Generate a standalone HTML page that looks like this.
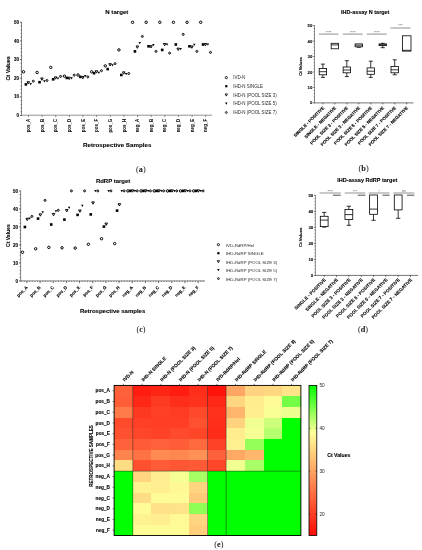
<!DOCTYPE html>
<html lang="en"><head><meta charset="utf-8"><title>Figure</title>
<style>html,body{margin:0;padding:0;background:#fff}svg{display:block}</style></head>
<body>
<svg width="422" height="550" viewBox="0 0 422 550" font-family='"Liberation Sans", Arial, sans-serif'>
<rect width="422" height="550" fill="#fff"/>
<g id="panelA">
<text x="116.80" y="14.00" font-size="6.1" font-weight="bold" text-anchor="middle" fill="#000" stroke="#000" stroke-width="0.1" textLength="23.10" lengthAdjust="spacingAndGlyphs">N target</text>
<line x1="21.50" y1="22.00" x2="21.50" y2="115.80" stroke="#333" stroke-width="0.6"/>
<line x1="19.90" y1="115.50" x2="21.50" y2="115.50" stroke="#000" stroke-width="0.6"/>
<text x="18.90" y="117.12" font-size="4.5" font-weight="bold" text-anchor="end" fill="#000" stroke="#000" stroke-width="0.1">0</text>
<line x1="19.90" y1="96.86" x2="21.50" y2="96.86" stroke="#000" stroke-width="0.6"/>
<text x="18.90" y="98.48" font-size="4.5" font-weight="bold" text-anchor="end" fill="#000" stroke="#000" stroke-width="0.1">10</text>
<line x1="19.90" y1="78.22" x2="21.50" y2="78.22" stroke="#000" stroke-width="0.6"/>
<text x="18.90" y="79.84" font-size="4.5" font-weight="bold" text-anchor="end" fill="#000" stroke="#000" stroke-width="0.1">20</text>
<line x1="19.90" y1="59.58" x2="21.50" y2="59.58" stroke="#000" stroke-width="0.6"/>
<text x="18.90" y="61.20" font-size="4.5" font-weight="bold" text-anchor="end" fill="#000" stroke="#000" stroke-width="0.1">30</text>
<line x1="19.90" y1="40.94" x2="21.50" y2="40.94" stroke="#000" stroke-width="0.6"/>
<text x="18.90" y="42.56" font-size="4.5" font-weight="bold" text-anchor="end" fill="#000" stroke="#000" stroke-width="0.1">40</text>
<line x1="19.90" y1="22.30" x2="21.50" y2="22.30" stroke="#000" stroke-width="0.6"/>
<text x="18.90" y="23.92" font-size="4.5" font-weight="bold" text-anchor="end" fill="#000" stroke="#000" stroke-width="0.1">50</text>
<line x1="20.54" y1="111.77" x2="21.50" y2="111.77" stroke="#000" stroke-width="0.48"/>
<line x1="20.54" y1="108.04" x2="21.50" y2="108.04" stroke="#000" stroke-width="0.48"/>
<line x1="20.54" y1="104.32" x2="21.50" y2="104.32" stroke="#000" stroke-width="0.48"/>
<line x1="20.54" y1="100.59" x2="21.50" y2="100.59" stroke="#000" stroke-width="0.48"/>
<line x1="20.54" y1="93.13" x2="21.50" y2="93.13" stroke="#000" stroke-width="0.48"/>
<line x1="20.54" y1="89.40" x2="21.50" y2="89.40" stroke="#000" stroke-width="0.48"/>
<line x1="20.54" y1="85.68" x2="21.50" y2="85.68" stroke="#000" stroke-width="0.48"/>
<line x1="20.54" y1="81.95" x2="21.50" y2="81.95" stroke="#000" stroke-width="0.48"/>
<line x1="20.54" y1="74.49" x2="21.50" y2="74.49" stroke="#000" stroke-width="0.48"/>
<line x1="20.54" y1="70.76" x2="21.50" y2="70.76" stroke="#000" stroke-width="0.48"/>
<line x1="20.54" y1="67.04" x2="21.50" y2="67.04" stroke="#000" stroke-width="0.48"/>
<line x1="20.54" y1="63.31" x2="21.50" y2="63.31" stroke="#000" stroke-width="0.48"/>
<line x1="20.54" y1="55.85" x2="21.50" y2="55.85" stroke="#000" stroke-width="0.48"/>
<line x1="20.54" y1="52.12" x2="21.50" y2="52.12" stroke="#000" stroke-width="0.48"/>
<line x1="20.54" y1="48.40" x2="21.50" y2="48.40" stroke="#000" stroke-width="0.48"/>
<line x1="20.54" y1="44.67" x2="21.50" y2="44.67" stroke="#000" stroke-width="0.48"/>
<line x1="20.54" y1="37.21" x2="21.50" y2="37.21" stroke="#000" stroke-width="0.48"/>
<line x1="20.54" y1="33.48" x2="21.50" y2="33.48" stroke="#000" stroke-width="0.48"/>
<line x1="20.54" y1="29.76" x2="21.50" y2="29.76" stroke="#000" stroke-width="0.48"/>
<line x1="20.54" y1="26.03" x2="21.50" y2="26.03" stroke="#000" stroke-width="0.48"/>
<line x1="21.20" y1="115.20" x2="212.20" y2="115.20" stroke="#666" stroke-width="0.7"/>
<line x1="28.50" y1="115.20" x2="28.50" y2="117.10" stroke="#444" stroke-width="0.6"/>
<text x="0" y="0" transform="translate(30.10,118.80) rotate(-90)" font-size="4.45" font-weight="bold" text-anchor="end" fill="#000">pos_A</text>
<line x1="42.13" y1="115.20" x2="42.13" y2="117.10" stroke="#444" stroke-width="0.6"/>
<text x="0" y="0" transform="translate(43.73,118.80) rotate(-90)" font-size="4.45" font-weight="bold" text-anchor="end" fill="#000">pos_B</text>
<line x1="55.76" y1="115.20" x2="55.76" y2="117.10" stroke="#444" stroke-width="0.6"/>
<text x="0" y="0" transform="translate(57.36,118.80) rotate(-90)" font-size="4.45" font-weight="bold" text-anchor="end" fill="#000">pos_C</text>
<line x1="69.39" y1="115.20" x2="69.39" y2="117.10" stroke="#444" stroke-width="0.6"/>
<text x="0" y="0" transform="translate(70.99,118.80) rotate(-90)" font-size="4.45" font-weight="bold" text-anchor="end" fill="#000">pos_D</text>
<line x1="83.02" y1="115.20" x2="83.02" y2="117.10" stroke="#444" stroke-width="0.6"/>
<text x="0" y="0" transform="translate(84.62,118.80) rotate(-90)" font-size="4.45" font-weight="bold" text-anchor="end" fill="#000">pos_E</text>
<line x1="96.65" y1="115.20" x2="96.65" y2="117.10" stroke="#444" stroke-width="0.6"/>
<text x="0" y="0" transform="translate(98.25,118.80) rotate(-90)" font-size="4.45" font-weight="bold" text-anchor="end" fill="#000">pos_F</text>
<line x1="110.28" y1="115.20" x2="110.28" y2="117.10" stroke="#444" stroke-width="0.6"/>
<text x="0" y="0" transform="translate(111.88,118.80) rotate(-90)" font-size="4.45" font-weight="bold" text-anchor="end" fill="#000">pos_G</text>
<line x1="123.91" y1="115.20" x2="123.91" y2="117.10" stroke="#444" stroke-width="0.6"/>
<text x="0" y="0" transform="translate(125.51,118.80) rotate(-90)" font-size="4.45" font-weight="bold" text-anchor="end" fill="#000">pos_H</text>
<line x1="137.54" y1="115.20" x2="137.54" y2="117.10" stroke="#444" stroke-width="0.6"/>
<text x="0" y="0" transform="translate(139.14,118.80) rotate(-90)" font-size="4.45" font-weight="bold" text-anchor="end" fill="#000">neg_A</text>
<line x1="151.17" y1="115.20" x2="151.17" y2="117.10" stroke="#444" stroke-width="0.6"/>
<text x="0" y="0" transform="translate(152.77,118.80) rotate(-90)" font-size="4.45" font-weight="bold" text-anchor="end" fill="#000">neg_B</text>
<line x1="164.80" y1="115.20" x2="164.80" y2="117.10" stroke="#444" stroke-width="0.6"/>
<text x="0" y="0" transform="translate(166.40,118.80) rotate(-90)" font-size="4.45" font-weight="bold" text-anchor="end" fill="#000">neg_C</text>
<line x1="178.43" y1="115.20" x2="178.43" y2="117.10" stroke="#444" stroke-width="0.6"/>
<text x="0" y="0" transform="translate(180.03,118.80) rotate(-90)" font-size="4.45" font-weight="bold" text-anchor="end" fill="#000">neg_D</text>
<line x1="192.06" y1="115.20" x2="192.06" y2="117.10" stroke="#444" stroke-width="0.6"/>
<text x="0" y="0" transform="translate(193.66,118.80) rotate(-90)" font-size="4.45" font-weight="bold" text-anchor="end" fill="#000">neg_E</text>
<line x1="205.69" y1="115.20" x2="205.69" y2="117.10" stroke="#444" stroke-width="0.6"/>
<text x="0" y="0" transform="translate(207.29,118.80) rotate(-90)" font-size="4.45" font-weight="bold" text-anchor="end" fill="#000">neg_F</text>
<circle cx="23.50" cy="71.80" r="1.22" fill="#fff" stroke="#000" stroke-width="1.0"/>
<rect x="24.60" y="83.10" width="2.6" height="2.6" fill="#000"/>
<path d="M27.00,81.66 L29.60,81.66 L28.30,84.00 Z" fill="#fff" stroke="#000" stroke-width="0.95"/>
<path d="M29.45,83.10 L31.95,83.10 L30.70,85.35 Z" fill="#000"/>
<circle cx="33.30" cy="81.20" r="1.0" fill="#fff" stroke="#000" stroke-width="0.95"/>
<circle cx="33.30" cy="81.20" r="0.3" fill="#000"/>
<circle cx="37.13" cy="72.50" r="1.22" fill="#fff" stroke="#000" stroke-width="1.0"/>
<rect x="38.23" y="80.90" width="2.6" height="2.6" fill="#000"/>
<path d="M40.63,77.96 L43.23,77.96 L41.93,80.30 Z" fill="#fff" stroke="#000" stroke-width="0.95"/>
<path d="M43.08,80.20 L45.58,80.20 L44.33,82.45 Z" fill="#000"/>
<circle cx="46.93" cy="80.50" r="1.0" fill="#fff" stroke="#000" stroke-width="0.95"/>
<circle cx="46.93" cy="80.50" r="0.3" fill="#000"/>
<circle cx="50.76" cy="67.40" r="1.22" fill="#fff" stroke="#000" stroke-width="1.0"/>
<rect x="51.86" y="78.00" width="2.6" height="2.6" fill="#000"/>
<path d="M54.26,76.86 L56.86,76.86 L55.56,79.20 Z" fill="#fff" stroke="#000" stroke-width="0.95"/>
<path d="M56.71,77.60 L59.21,77.60 L57.96,79.85 Z" fill="#000"/>
<circle cx="60.56" cy="76.40" r="1.0" fill="#fff" stroke="#000" stroke-width="0.95"/>
<circle cx="60.56" cy="76.40" r="0.3" fill="#000"/>
<circle cx="64.39" cy="76.10" r="1.22" fill="#fff" stroke="#000" stroke-width="1.0"/>
<rect x="65.49" y="76.60" width="2.6" height="2.6" fill="#000"/>
<path d="M67.89,77.26 L70.49,77.26 L69.19,79.60 Z" fill="#fff" stroke="#000" stroke-width="0.95"/>
<path d="M70.34,77.30 L72.84,77.30 L71.59,79.55 Z" fill="#000"/>
<circle cx="74.19" cy="75.10" r="1.0" fill="#fff" stroke="#000" stroke-width="0.95"/>
<circle cx="74.19" cy="75.10" r="0.3" fill="#000"/>
<circle cx="78.02" cy="75.00" r="1.22" fill="#fff" stroke="#000" stroke-width="1.0"/>
<rect x="79.12" y="75.60" width="2.6" height="2.6" fill="#000"/>
<path d="M81.52,76.56 L84.12,76.56 L82.82,78.90 Z" fill="#fff" stroke="#000" stroke-width="0.95"/>
<path d="M83.97,75.10 L86.47,75.10 L85.22,77.35 Z" fill="#000"/>
<circle cx="87.82" cy="76.90" r="1.0" fill="#fff" stroke="#000" stroke-width="0.95"/>
<circle cx="87.82" cy="76.90" r="0.3" fill="#000"/>
<circle cx="91.65" cy="71.80" r="1.22" fill="#fff" stroke="#000" stroke-width="1.0"/>
<rect x="92.75" y="71.90" width="2.6" height="2.6" fill="#000"/>
<path d="M95.15,70.76 L97.75,70.76 L96.45,73.10 Z" fill="#fff" stroke="#000" stroke-width="0.95"/>
<path d="M97.60,71.80 L100.10,71.80 L98.85,74.05 Z" fill="#000"/>
<circle cx="101.45" cy="70.70" r="1.0" fill="#fff" stroke="#000" stroke-width="0.95"/>
<circle cx="101.45" cy="70.70" r="0.3" fill="#000"/>
<circle cx="105.28" cy="65.90" r="1.22" fill="#fff" stroke="#000" stroke-width="1.0"/>
<rect x="106.38" y="67.80" width="2.6" height="2.6" fill="#000"/>
<path d="M108.78,63.66 L111.38,63.66 L110.08,66.00 Z" fill="#fff" stroke="#000" stroke-width="0.95"/>
<path d="M111.23,64.30 L113.73,64.30 L112.48,66.55 Z" fill="#000"/>
<circle cx="115.08" cy="63.60" r="1.0" fill="#fff" stroke="#000" stroke-width="0.95"/>
<circle cx="115.08" cy="63.60" r="0.3" fill="#000"/>
<circle cx="118.91" cy="49.90" r="1.22" fill="#fff" stroke="#000" stroke-width="1.0"/>
<rect x="120.01" y="73.70" width="2.6" height="2.6" fill="#000"/>
<path d="M122.41,71.86 L125.01,71.86 L123.71,74.20 Z" fill="#fff" stroke="#000" stroke-width="0.95"/>
<path d="M124.86,73.00 L127.36,73.00 L126.11,75.25 Z" fill="#000"/>
<circle cx="128.71" cy="73.50" r="1.0" fill="#fff" stroke="#000" stroke-width="0.95"/>
<circle cx="128.71" cy="73.50" r="0.3" fill="#000"/>
<circle cx="132.54" cy="22.30" r="1.22" fill="#fff" stroke="#000" stroke-width="1.0"/>
<rect x="133.64" y="50.10" width="2.6" height="2.6" fill="#000"/>
<path d="M136.04,45.96 L138.64,45.96 L137.34,48.30 Z" fill="#fff" stroke="#000" stroke-width="0.95"/>
<path d="M138.49,42.10 L140.99,42.10 L139.74,44.35 Z" fill="#000"/>
<circle cx="142.34" cy="36.40" r="1.0" fill="#fff" stroke="#000" stroke-width="0.95"/>
<circle cx="142.34" cy="36.40" r="0.3" fill="#000"/>
<circle cx="146.17" cy="22.30" r="1.22" fill="#fff" stroke="#000" stroke-width="1.0"/>
<rect x="147.27" y="45.00" width="2.6" height="2.6" fill="#000"/>
<path d="M149.67,45.66 L152.27,45.66 L150.97,48.00 Z" fill="#fff" stroke="#000" stroke-width="0.95"/>
<path d="M152.12,44.10 L154.62,44.10 L153.37,46.35 Z" fill="#000"/>
<circle cx="155.97" cy="51.40" r="1.0" fill="#fff" stroke="#000" stroke-width="0.95"/>
<circle cx="155.97" cy="51.40" r="0.3" fill="#000"/>
<circle cx="159.80" cy="22.30" r="1.22" fill="#fff" stroke="#000" stroke-width="1.0"/>
<rect x="160.90" y="48.60" width="2.6" height="2.6" fill="#000"/>
<path d="M163.30,43.46 L165.90,43.46 L164.60,45.80 Z" fill="#fff" stroke="#000" stroke-width="0.95"/>
<path d="M165.75,43.50 L168.25,43.50 L167.00,45.75 Z" fill="#000"/>
<circle cx="169.60" cy="53.10" r="1.0" fill="#fff" stroke="#000" stroke-width="0.95"/>
<circle cx="169.60" cy="53.10" r="0.3" fill="#000"/>
<circle cx="173.43" cy="22.30" r="1.22" fill="#fff" stroke="#000" stroke-width="1.0"/>
<rect x="174.53" y="43.20" width="2.6" height="2.6" fill="#000"/>
<path d="M176.93,48.16 L179.53,48.16 L178.23,50.50 Z" fill="#fff" stroke="#000" stroke-width="0.95"/>
<path d="M179.38,47.90 L181.88,47.90 L180.63,50.15 Z" fill="#000"/>
<circle cx="183.23" cy="34.40" r="1.0" fill="#fff" stroke="#000" stroke-width="0.95"/>
<circle cx="183.23" cy="34.40" r="0.3" fill="#000"/>
<circle cx="187.06" cy="22.30" r="1.22" fill="#fff" stroke="#000" stroke-width="1.0"/>
<rect x="188.16" y="45.00" width="2.6" height="2.6" fill="#000"/>
<path d="M190.56,45.96 L193.16,45.96 L191.86,48.30 Z" fill="#fff" stroke="#000" stroke-width="0.95"/>
<path d="M193.01,43.80 L195.51,43.80 L194.26,46.05 Z" fill="#000"/>
<circle cx="196.86" cy="51.40" r="1.0" fill="#fff" stroke="#000" stroke-width="0.95"/>
<circle cx="196.86" cy="51.40" r="0.3" fill="#000"/>
<circle cx="200.69" cy="22.30" r="1.22" fill="#fff" stroke="#000" stroke-width="1.0"/>
<rect x="201.79" y="43.20" width="2.6" height="2.6" fill="#000"/>
<path d="M204.19,43.46 L206.79,43.46 L205.49,45.80 Z" fill="#fff" stroke="#000" stroke-width="0.95"/>
<path d="M206.64,43.50 L209.14,43.50 L207.89,45.75 Z" fill="#000"/>
<circle cx="210.49" cy="52.40" r="1.0" fill="#fff" stroke="#000" stroke-width="0.95"/>
<circle cx="210.49" cy="52.40" r="0.3" fill="#000"/>
<text x="0" y="0" transform="translate(10.30,68.40) rotate(-90)" font-size="5.4" font-weight="bold" text-anchor="middle" fill="#000" stroke="#000" stroke-width="0.1" textLength="24.40" lengthAdjust="spacingAndGlyphs">Ct Values</text>
<text x="117.20" y="147.40" font-size="6.2" font-weight="bold" text-anchor="middle" fill="#000" stroke="#000" stroke-width="0.1" textLength="68.30" lengthAdjust="spacingAndGlyphs">Retrospective Samples</text>
<text x="140.90" y="171.60" font-size="8.2" text-anchor="middle" fill="#111" font-family='"Liberation Serif", "DejaVu Serif", serif'>(<tspan font-weight="bold">a</tspan>)</text>
<circle cx="226.30" cy="77.60" r="1.1" fill="#fff" stroke="#000" stroke-width="0.85"/>
<text x="233.20" y="79.35" font-size="4.45" font-weight="normal" text-anchor="start" fill="#2a2a2a">IVD-N</text>
<rect x="225.20" y="85.10" width="2.2" height="2.2" fill="#000"/>
<text x="233.20" y="87.95" font-size="4.45" font-weight="normal" text-anchor="start" fill="#2a2a2a">IHD-N SINGLE</text>
<path d="M225.10,93.94 L227.50,93.94 L226.30,96.10 Z" fill="#fff" stroke="#000" stroke-width="0.8"/>
<text x="233.20" y="96.65" font-size="4.45" font-weight="normal" text-anchor="start" fill="#2a2a2a">IHD-N (POOL SIZE 3)</text>
<path d="M225.05,102.50 L227.55,102.50 L226.30,104.75 Z" fill="#000"/>
<text x="233.20" y="105.25" font-size="4.45" font-weight="normal" text-anchor="start" fill="#2a2a2a">IHD-N (POOL SIZE 5)</text>
<circle cx="226.30" cy="112.50" r="0.95" fill="#fff" stroke="#000" stroke-width="0.8"/>
<circle cx="226.30" cy="112.50" r="0.3" fill="#000"/>
<text x="233.20" y="114.25" font-size="4.45" font-weight="normal" text-anchor="start" fill="#2a2a2a">IHD-N (POOL SIZE 7)</text>
</g>
<g id="panelC">
<text x="113.10" y="182.80" font-size="6.1" font-weight="bold" text-anchor="middle" fill="#000" stroke="#000" stroke-width="0.1" textLength="34.40" lengthAdjust="spacingAndGlyphs">RdRP target</text>
<line x1="20.60" y1="190.60" x2="20.60" y2="281.20" stroke="#333" stroke-width="0.6"/>
<line x1="19.00" y1="280.90" x2="20.60" y2="280.90" stroke="#000" stroke-width="0.6"/>
<text x="18.00" y="282.52" font-size="4.5" font-weight="bold" text-anchor="end" fill="#000" stroke="#000" stroke-width="0.1">0</text>
<line x1="19.00" y1="262.90" x2="20.60" y2="262.90" stroke="#000" stroke-width="0.6"/>
<text x="18.00" y="264.52" font-size="4.5" font-weight="bold" text-anchor="end" fill="#000" stroke="#000" stroke-width="0.1">10</text>
<line x1="19.00" y1="244.90" x2="20.60" y2="244.90" stroke="#000" stroke-width="0.6"/>
<text x="18.00" y="246.52" font-size="4.5" font-weight="bold" text-anchor="end" fill="#000" stroke="#000" stroke-width="0.1">20</text>
<line x1="19.00" y1="226.90" x2="20.60" y2="226.90" stroke="#000" stroke-width="0.6"/>
<text x="18.00" y="228.52" font-size="4.5" font-weight="bold" text-anchor="end" fill="#000" stroke="#000" stroke-width="0.1">30</text>
<line x1="19.00" y1="208.90" x2="20.60" y2="208.90" stroke="#000" stroke-width="0.6"/>
<text x="18.00" y="210.52" font-size="4.5" font-weight="bold" text-anchor="end" fill="#000" stroke="#000" stroke-width="0.1">40</text>
<line x1="19.00" y1="190.90" x2="20.60" y2="190.90" stroke="#000" stroke-width="0.6"/>
<text x="18.00" y="192.52" font-size="4.5" font-weight="bold" text-anchor="end" fill="#000" stroke="#000" stroke-width="0.1">50</text>
<line x1="19.64" y1="277.30" x2="20.60" y2="277.30" stroke="#000" stroke-width="0.48"/>
<line x1="19.64" y1="273.70" x2="20.60" y2="273.70" stroke="#000" stroke-width="0.48"/>
<line x1="19.64" y1="270.10" x2="20.60" y2="270.10" stroke="#000" stroke-width="0.48"/>
<line x1="19.64" y1="266.50" x2="20.60" y2="266.50" stroke="#000" stroke-width="0.48"/>
<line x1="19.64" y1="259.30" x2="20.60" y2="259.30" stroke="#000" stroke-width="0.48"/>
<line x1="19.64" y1="255.70" x2="20.60" y2="255.70" stroke="#000" stroke-width="0.48"/>
<line x1="19.64" y1="252.10" x2="20.60" y2="252.10" stroke="#000" stroke-width="0.48"/>
<line x1="19.64" y1="248.50" x2="20.60" y2="248.50" stroke="#000" stroke-width="0.48"/>
<line x1="19.64" y1="241.30" x2="20.60" y2="241.30" stroke="#000" stroke-width="0.48"/>
<line x1="19.64" y1="237.70" x2="20.60" y2="237.70" stroke="#000" stroke-width="0.48"/>
<line x1="19.64" y1="234.10" x2="20.60" y2="234.10" stroke="#000" stroke-width="0.48"/>
<line x1="19.64" y1="230.50" x2="20.60" y2="230.50" stroke="#000" stroke-width="0.48"/>
<line x1="19.64" y1="223.30" x2="20.60" y2="223.30" stroke="#000" stroke-width="0.48"/>
<line x1="19.64" y1="219.70" x2="20.60" y2="219.70" stroke="#000" stroke-width="0.48"/>
<line x1="19.64" y1="216.10" x2="20.60" y2="216.10" stroke="#000" stroke-width="0.48"/>
<line x1="19.64" y1="212.50" x2="20.60" y2="212.50" stroke="#000" stroke-width="0.48"/>
<line x1="19.64" y1="205.30" x2="20.60" y2="205.30" stroke="#000" stroke-width="0.48"/>
<line x1="19.64" y1="201.70" x2="20.60" y2="201.70" stroke="#000" stroke-width="0.48"/>
<line x1="19.64" y1="198.10" x2="20.60" y2="198.10" stroke="#000" stroke-width="0.48"/>
<line x1="19.64" y1="194.50" x2="20.60" y2="194.50" stroke="#000" stroke-width="0.48"/>
<line x1="20.30" y1="280.90" x2="205.00" y2="280.90" stroke="#555" stroke-width="0.7"/>
<line x1="26.90" y1="280.90" x2="26.90" y2="283.10" stroke="#000" stroke-width="0.6"/>
<line x1="29.53" y1="280.90" x2="29.53" y2="282.00" stroke="#000" stroke-width="0.45"/>
<line x1="32.17" y1="280.90" x2="32.17" y2="282.00" stroke="#000" stroke-width="0.45"/>
<line x1="34.80" y1="280.90" x2="34.80" y2="282.00" stroke="#000" stroke-width="0.45"/>
<line x1="37.44" y1="280.90" x2="37.44" y2="282.00" stroke="#000" stroke-width="0.45"/>
<line x1="40.07" y1="280.90" x2="40.07" y2="283.10" stroke="#000" stroke-width="0.6"/>
<line x1="42.70" y1="280.90" x2="42.70" y2="282.00" stroke="#000" stroke-width="0.45"/>
<line x1="45.34" y1="280.90" x2="45.34" y2="282.00" stroke="#000" stroke-width="0.45"/>
<line x1="47.97" y1="280.90" x2="47.97" y2="282.00" stroke="#000" stroke-width="0.45"/>
<line x1="50.61" y1="280.90" x2="50.61" y2="282.00" stroke="#000" stroke-width="0.45"/>
<line x1="53.24" y1="280.90" x2="53.24" y2="283.10" stroke="#000" stroke-width="0.6"/>
<line x1="55.87" y1="280.90" x2="55.87" y2="282.00" stroke="#000" stroke-width="0.45"/>
<line x1="58.51" y1="280.90" x2="58.51" y2="282.00" stroke="#000" stroke-width="0.45"/>
<line x1="61.14" y1="280.90" x2="61.14" y2="282.00" stroke="#000" stroke-width="0.45"/>
<line x1="63.78" y1="280.90" x2="63.78" y2="282.00" stroke="#000" stroke-width="0.45"/>
<line x1="66.41" y1="280.90" x2="66.41" y2="283.10" stroke="#000" stroke-width="0.6"/>
<line x1="69.04" y1="280.90" x2="69.04" y2="282.00" stroke="#000" stroke-width="0.45"/>
<line x1="71.68" y1="280.90" x2="71.68" y2="282.00" stroke="#000" stroke-width="0.45"/>
<line x1="74.31" y1="280.90" x2="74.31" y2="282.00" stroke="#000" stroke-width="0.45"/>
<line x1="76.95" y1="280.90" x2="76.95" y2="282.00" stroke="#000" stroke-width="0.45"/>
<line x1="79.58" y1="280.90" x2="79.58" y2="283.10" stroke="#000" stroke-width="0.6"/>
<line x1="82.21" y1="280.90" x2="82.21" y2="282.00" stroke="#000" stroke-width="0.45"/>
<line x1="84.85" y1="280.90" x2="84.85" y2="282.00" stroke="#000" stroke-width="0.45"/>
<line x1="87.48" y1="280.90" x2="87.48" y2="282.00" stroke="#000" stroke-width="0.45"/>
<line x1="90.12" y1="280.90" x2="90.12" y2="282.00" stroke="#000" stroke-width="0.45"/>
<line x1="92.75" y1="280.90" x2="92.75" y2="283.10" stroke="#000" stroke-width="0.6"/>
<line x1="95.38" y1="280.90" x2="95.38" y2="282.00" stroke="#000" stroke-width="0.45"/>
<line x1="98.02" y1="280.90" x2="98.02" y2="282.00" stroke="#000" stroke-width="0.45"/>
<line x1="100.65" y1="280.90" x2="100.65" y2="282.00" stroke="#000" stroke-width="0.45"/>
<line x1="103.29" y1="280.90" x2="103.29" y2="282.00" stroke="#000" stroke-width="0.45"/>
<line x1="105.92" y1="280.90" x2="105.92" y2="283.10" stroke="#000" stroke-width="0.6"/>
<line x1="108.55" y1="280.90" x2="108.55" y2="282.00" stroke="#000" stroke-width="0.45"/>
<line x1="111.19" y1="280.90" x2="111.19" y2="282.00" stroke="#000" stroke-width="0.45"/>
<line x1="113.82" y1="280.90" x2="113.82" y2="282.00" stroke="#000" stroke-width="0.45"/>
<line x1="116.46" y1="280.90" x2="116.46" y2="282.00" stroke="#000" stroke-width="0.45"/>
<line x1="119.09" y1="280.90" x2="119.09" y2="283.10" stroke="#000" stroke-width="0.6"/>
<line x1="121.72" y1="280.90" x2="121.72" y2="282.00" stroke="#000" stroke-width="0.45"/>
<line x1="124.36" y1="280.90" x2="124.36" y2="282.00" stroke="#000" stroke-width="0.45"/>
<line x1="126.99" y1="280.90" x2="126.99" y2="282.00" stroke="#000" stroke-width="0.45"/>
<line x1="129.63" y1="280.90" x2="129.63" y2="282.00" stroke="#000" stroke-width="0.45"/>
<line x1="132.26" y1="280.90" x2="132.26" y2="283.10" stroke="#000" stroke-width="0.6"/>
<line x1="134.89" y1="280.90" x2="134.89" y2="282.00" stroke="#000" stroke-width="0.45"/>
<line x1="137.53" y1="280.90" x2="137.53" y2="282.00" stroke="#000" stroke-width="0.45"/>
<line x1="140.16" y1="280.90" x2="140.16" y2="282.00" stroke="#000" stroke-width="0.45"/>
<line x1="142.80" y1="280.90" x2="142.80" y2="282.00" stroke="#000" stroke-width="0.45"/>
<line x1="145.43" y1="280.90" x2="145.43" y2="283.10" stroke="#000" stroke-width="0.6"/>
<line x1="148.06" y1="280.90" x2="148.06" y2="282.00" stroke="#000" stroke-width="0.45"/>
<line x1="150.70" y1="280.90" x2="150.70" y2="282.00" stroke="#000" stroke-width="0.45"/>
<line x1="153.33" y1="280.90" x2="153.33" y2="282.00" stroke="#000" stroke-width="0.45"/>
<line x1="155.97" y1="280.90" x2="155.97" y2="282.00" stroke="#000" stroke-width="0.45"/>
<line x1="158.60" y1="280.90" x2="158.60" y2="283.10" stroke="#000" stroke-width="0.6"/>
<line x1="161.23" y1="280.90" x2="161.23" y2="282.00" stroke="#000" stroke-width="0.45"/>
<line x1="163.87" y1="280.90" x2="163.87" y2="282.00" stroke="#000" stroke-width="0.45"/>
<line x1="166.50" y1="280.90" x2="166.50" y2="282.00" stroke="#000" stroke-width="0.45"/>
<line x1="169.14" y1="280.90" x2="169.14" y2="282.00" stroke="#000" stroke-width="0.45"/>
<line x1="171.77" y1="280.90" x2="171.77" y2="283.10" stroke="#000" stroke-width="0.6"/>
<line x1="174.40" y1="280.90" x2="174.40" y2="282.00" stroke="#000" stroke-width="0.45"/>
<line x1="177.04" y1="280.90" x2="177.04" y2="282.00" stroke="#000" stroke-width="0.45"/>
<line x1="179.67" y1="280.90" x2="179.67" y2="282.00" stroke="#000" stroke-width="0.45"/>
<line x1="182.31" y1="280.90" x2="182.31" y2="282.00" stroke="#000" stroke-width="0.45"/>
<line x1="184.94" y1="280.90" x2="184.94" y2="283.10" stroke="#000" stroke-width="0.6"/>
<line x1="187.57" y1="280.90" x2="187.57" y2="282.00" stroke="#000" stroke-width="0.45"/>
<line x1="190.21" y1="280.90" x2="190.21" y2="282.00" stroke="#000" stroke-width="0.45"/>
<line x1="192.84" y1="280.90" x2="192.84" y2="282.00" stroke="#000" stroke-width="0.45"/>
<line x1="195.48" y1="280.90" x2="195.48" y2="282.00" stroke="#000" stroke-width="0.45"/>
<line x1="198.11" y1="280.90" x2="198.11" y2="283.10" stroke="#000" stroke-width="0.6"/>
<line x1="200.74" y1="280.90" x2="200.74" y2="282.00" stroke="#000" stroke-width="0.45"/>
<line x1="203.38" y1="280.90" x2="203.38" y2="282.00" stroke="#000" stroke-width="0.45"/>
<line x1="24.27" y1="280.90" x2="24.27" y2="282.00" stroke="#000" stroke-width="0.45"/>
<line x1="21.63" y1="280.90" x2="21.63" y2="282.00" stroke="#000" stroke-width="0.45"/>
<text x="0" y="0" transform="translate(27.90,287.70) rotate(-45)" font-size="4.4" font-weight="bold" text-anchor="end" fill="#000" stroke="#000" stroke-width="0.1">pos_A</text>
<text x="0" y="0" transform="translate(41.07,287.70) rotate(-45)" font-size="4.4" font-weight="bold" text-anchor="end" fill="#000" stroke="#000" stroke-width="0.1">pos_B</text>
<text x="0" y="0" transform="translate(54.24,287.70) rotate(-45)" font-size="4.4" font-weight="bold" text-anchor="end" fill="#000" stroke="#000" stroke-width="0.1">pos_C</text>
<text x="0" y="0" transform="translate(67.41,287.70) rotate(-45)" font-size="4.4" font-weight="bold" text-anchor="end" fill="#000" stroke="#000" stroke-width="0.1">pos_D</text>
<text x="0" y="0" transform="translate(80.58,287.70) rotate(-45)" font-size="4.4" font-weight="bold" text-anchor="end" fill="#000" stroke="#000" stroke-width="0.1">pos_E</text>
<text x="0" y="0" transform="translate(93.75,287.70) rotate(-45)" font-size="4.4" font-weight="bold" text-anchor="end" fill="#000" stroke="#000" stroke-width="0.1">pos_F</text>
<text x="0" y="0" transform="translate(106.92,287.70) rotate(-45)" font-size="4.4" font-weight="bold" text-anchor="end" fill="#000" stroke="#000" stroke-width="0.1">pos_G</text>
<text x="0" y="0" transform="translate(120.09,287.70) rotate(-45)" font-size="4.4" font-weight="bold" text-anchor="end" fill="#000" stroke="#000" stroke-width="0.1">pos_H</text>
<text x="0" y="0" transform="translate(133.26,287.70) rotate(-45)" font-size="4.4" font-weight="bold" text-anchor="end" fill="#000" stroke="#000" stroke-width="0.1">neg_A</text>
<text x="0" y="0" transform="translate(146.43,287.70) rotate(-45)" font-size="4.4" font-weight="bold" text-anchor="end" fill="#000" stroke="#000" stroke-width="0.1">neg_B</text>
<text x="0" y="0" transform="translate(159.60,287.70) rotate(-45)" font-size="4.4" font-weight="bold" text-anchor="end" fill="#000" stroke="#000" stroke-width="0.1">neg_C</text>
<text x="0" y="0" transform="translate(172.77,287.70) rotate(-45)" font-size="4.4" font-weight="bold" text-anchor="end" fill="#000" stroke="#000" stroke-width="0.1">neg_D</text>
<text x="0" y="0" transform="translate(185.94,287.70) rotate(-45)" font-size="4.4" font-weight="bold" text-anchor="end" fill="#000" stroke="#000" stroke-width="0.1">neg_E</text>
<text x="0" y="0" transform="translate(199.11,287.70) rotate(-45)" font-size="4.4" font-weight="bold" text-anchor="end" fill="#000" stroke="#000" stroke-width="0.1">neg_F</text>
<circle cx="22.50" cy="252.30" r="1.22" fill="#fff" stroke="#000" stroke-width="1.0"/>
<rect x="23.60" y="225.70" width="2.6" height="2.6" fill="#000"/>
<path d="M25.90,218.26 L28.50,218.26 L27.20,220.60 Z" fill="#fff" stroke="#000" stroke-width="0.95"/>
<path d="M28.35,217.60 L30.85,217.60 L29.60,219.85 Z" fill="#000"/>
<circle cx="31.90" cy="216.40" r="1.0" fill="#fff" stroke="#000" stroke-width="0.95"/>
<circle cx="31.90" cy="216.40" r="0.3" fill="#000"/>
<circle cx="35.67" cy="248.80" r="1.22" fill="#fff" stroke="#000" stroke-width="1.0"/>
<rect x="36.77" y="217.30" width="2.6" height="2.6" fill="#000"/>
<path d="M39.07,213.86 L41.67,213.86 L40.37,216.20 Z" fill="#fff" stroke="#000" stroke-width="0.95"/>
<path d="M41.52,211.30 L44.02,211.30 L42.77,213.55 Z" fill="#000"/>
<circle cx="45.07" cy="200.40" r="1.0" fill="#fff" stroke="#000" stroke-width="0.95"/>
<circle cx="45.07" cy="200.40" r="0.3" fill="#000"/>
<circle cx="48.84" cy="247.40" r="1.22" fill="#fff" stroke="#000" stroke-width="1.0"/>
<rect x="49.94" y="223.20" width="2.6" height="2.6" fill="#000"/>
<path d="M52.24,213.46 L54.84,213.46 L53.54,215.80 Z" fill="#fff" stroke="#000" stroke-width="0.95"/>
<path d="M54.69,210.30 L57.19,210.30 L55.94,212.55 Z" fill="#000"/>
<circle cx="58.24" cy="210.30" r="1.0" fill="#fff" stroke="#000" stroke-width="0.95"/>
<circle cx="58.24" cy="210.30" r="0.3" fill="#000"/>
<circle cx="62.01" cy="247.80" r="1.22" fill="#fff" stroke="#000" stroke-width="1.0"/>
<rect x="63.11" y="218.30" width="2.6" height="2.6" fill="#000"/>
<path d="M65.41,209.56 L68.01,209.56 L66.71,211.90 Z" fill="#fff" stroke="#000" stroke-width="0.95"/>
<path d="M67.86,206.80 L70.36,206.80 L69.11,209.05 Z" fill="#000"/>
<circle cx="71.41" cy="190.90" r="1.0" fill="#fff" stroke="#000" stroke-width="0.95"/>
<circle cx="71.41" cy="190.90" r="0.3" fill="#000"/>
<circle cx="75.18" cy="248.10" r="1.22" fill="#fff" stroke="#000" stroke-width="1.0"/>
<rect x="76.28" y="213.60" width="2.6" height="2.6" fill="#000"/>
<path d="M78.58,209.96 L81.18,209.96 L79.88,212.30 Z" fill="#fff" stroke="#000" stroke-width="0.95"/>
<path d="M81.03,204.80 L83.53,204.80 L82.28,207.05 Z" fill="#000"/>
<circle cx="84.58" cy="190.90" r="1.0" fill="#fff" stroke="#000" stroke-width="0.95"/>
<circle cx="84.58" cy="190.90" r="0.3" fill="#000"/>
<circle cx="88.35" cy="244.30" r="1.22" fill="#fff" stroke="#000" stroke-width="1.0"/>
<rect x="89.45" y="213.10" width="2.6" height="2.6" fill="#000"/>
<path d="M91.75,201.86 L94.35,201.86 L93.05,204.20 Z" fill="#fff" stroke="#000" stroke-width="0.95"/>
<path d="M94.20,189.90 L96.70,189.90 L95.45,192.15 Z" fill="#000"/>
<circle cx="97.75" cy="190.90" r="1.0" fill="#fff" stroke="#000" stroke-width="0.95"/>
<circle cx="97.75" cy="190.90" r="0.3" fill="#000"/>
<circle cx="101.52" cy="238.70" r="1.22" fill="#fff" stroke="#000" stroke-width="1.0"/>
<rect x="102.62" y="225.30" width="2.6" height="2.6" fill="#000"/>
<path d="M104.92,223.06 L107.52,223.06 L106.22,225.40 Z" fill="#fff" stroke="#000" stroke-width="0.95"/>
<path d="M107.37,189.90 L109.87,189.90 L108.62,192.15 Z" fill="#000"/>
<circle cx="110.92" cy="190.90" r="1.0" fill="#fff" stroke="#000" stroke-width="0.95"/>
<circle cx="110.92" cy="190.90" r="0.3" fill="#000"/>
<circle cx="114.69" cy="243.60" r="1.22" fill="#fff" stroke="#000" stroke-width="1.0"/>
<rect x="115.79" y="209.30" width="2.6" height="2.6" fill="#000"/>
<path d="M118.09,203.66 L120.69,203.66 L119.39,206.00 Z" fill="#fff" stroke="#000" stroke-width="0.95"/>
<path d="M120.54,189.90 L123.04,189.90 L121.79,192.15 Z" fill="#000"/>
<circle cx="124.09" cy="190.90" r="1.0" fill="#fff" stroke="#000" stroke-width="0.95"/>
<circle cx="124.09" cy="190.90" r="0.3" fill="#000"/>
<circle cx="127.86" cy="190.90" r="1.22" fill="#fff" stroke="#000" stroke-width="1.0"/>
<rect x="128.96" y="189.60" width="2.6" height="2.6" fill="#000"/>
<path d="M131.26,189.86 L133.86,189.86 L132.56,192.20 Z" fill="#fff" stroke="#000" stroke-width="0.95"/>
<path d="M133.71,189.90 L136.21,189.90 L134.96,192.15 Z" fill="#000"/>
<circle cx="137.26" cy="190.90" r="1.0" fill="#fff" stroke="#000" stroke-width="0.95"/>
<circle cx="137.26" cy="190.90" r="0.3" fill="#000"/>
<circle cx="141.03" cy="190.90" r="1.22" fill="#fff" stroke="#000" stroke-width="1.0"/>
<rect x="142.13" y="189.60" width="2.6" height="2.6" fill="#000"/>
<path d="M144.43,189.86 L147.03,189.86 L145.73,192.20 Z" fill="#fff" stroke="#000" stroke-width="0.95"/>
<path d="M146.88,189.90 L149.38,189.90 L148.13,192.15 Z" fill="#000"/>
<circle cx="150.43" cy="190.90" r="1.0" fill="#fff" stroke="#000" stroke-width="0.95"/>
<circle cx="150.43" cy="190.90" r="0.3" fill="#000"/>
<circle cx="154.20" cy="190.90" r="1.22" fill="#fff" stroke="#000" stroke-width="1.0"/>
<rect x="155.30" y="189.60" width="2.6" height="2.6" fill="#000"/>
<path d="M157.60,189.86 L160.20,189.86 L158.90,192.20 Z" fill="#fff" stroke="#000" stroke-width="0.95"/>
<path d="M160.05,189.90 L162.55,189.90 L161.30,192.15 Z" fill="#000"/>
<circle cx="163.60" cy="190.90" r="1.0" fill="#fff" stroke="#000" stroke-width="0.95"/>
<circle cx="163.60" cy="190.90" r="0.3" fill="#000"/>
<circle cx="167.37" cy="190.90" r="1.22" fill="#fff" stroke="#000" stroke-width="1.0"/>
<rect x="168.47" y="189.60" width="2.6" height="2.6" fill="#000"/>
<path d="M170.77,189.86 L173.37,189.86 L172.07,192.20 Z" fill="#fff" stroke="#000" stroke-width="0.95"/>
<path d="M173.22,189.90 L175.72,189.90 L174.47,192.15 Z" fill="#000"/>
<circle cx="176.77" cy="190.90" r="1.0" fill="#fff" stroke="#000" stroke-width="0.95"/>
<circle cx="176.77" cy="190.90" r="0.3" fill="#000"/>
<circle cx="180.54" cy="190.90" r="1.22" fill="#fff" stroke="#000" stroke-width="1.0"/>
<rect x="181.64" y="189.60" width="2.6" height="2.6" fill="#000"/>
<path d="M183.94,189.86 L186.54,189.86 L185.24,192.20 Z" fill="#fff" stroke="#000" stroke-width="0.95"/>
<path d="M186.39,189.90 L188.89,189.90 L187.64,192.15 Z" fill="#000"/>
<circle cx="189.94" cy="190.90" r="1.0" fill="#fff" stroke="#000" stroke-width="0.95"/>
<circle cx="189.94" cy="190.90" r="0.3" fill="#000"/>
<circle cx="193.71" cy="190.90" r="1.22" fill="#fff" stroke="#000" stroke-width="1.0"/>
<rect x="194.81" y="189.60" width="2.6" height="2.6" fill="#000"/>
<path d="M197.11,189.86 L199.71,189.86 L198.41,192.20 Z" fill="#fff" stroke="#000" stroke-width="0.95"/>
<path d="M199.56,189.90 L202.06,189.90 L200.81,192.15 Z" fill="#000"/>
<circle cx="203.11" cy="190.90" r="1.0" fill="#fff" stroke="#000" stroke-width="0.95"/>
<circle cx="203.11" cy="190.90" r="0.3" fill="#000"/>
<text x="0" y="0" transform="translate(9.90,235.60) rotate(-90)" font-size="5.0" font-weight="bold" text-anchor="middle" fill="#000" stroke="#000" stroke-width="0.1" textLength="22.60" lengthAdjust="spacingAndGlyphs">Ct Values</text>
<text x="112.60" y="312.70" font-size="6.2" font-weight="bold" text-anchor="middle" fill="#000" stroke="#000" stroke-width="0.1" textLength="65.40" lengthAdjust="spacingAndGlyphs">Retrospective samples</text>
<text x="141.00" y="332.00" font-size="8.2" text-anchor="middle" fill="#111" font-family='"Liberation Serif", "DejaVu Serif", serif'>(<tspan font-weight="bold">c</tspan>)</text>
<circle cx="218.40" cy="244.70" r="1.1" fill="#fff" stroke="#000" stroke-width="0.85"/>
<text x="225.90" y="246.65" font-size="4.38" font-weight="normal" text-anchor="start" fill="#2a2a2a">IVD-RdRP/Hel</text>
<rect x="217.30" y="252.10" width="2.2" height="2.2" fill="#000"/>
<text x="225.90" y="255.15" font-size="4.38" font-weight="normal" text-anchor="start" fill="#2a2a2a">IHD-RdRP SINGLE</text>
<path d="M217.20,260.64 L219.60,260.64 L218.40,262.80 Z" fill="#fff" stroke="#000" stroke-width="0.8"/>
<text x="225.90" y="263.55" font-size="4.38" font-weight="normal" text-anchor="start" fill="#2a2a2a">IHD-RdRP (POOL SIZE 3)</text>
<path d="M217.15,269.10 L219.65,269.10 L218.40,271.35 Z" fill="#000"/>
<text x="225.90" y="272.05" font-size="4.38" font-weight="normal" text-anchor="start" fill="#2a2a2a">IHD-RdRP (POOL SIZE 5)</text>
<circle cx="218.40" cy="278.60" r="0.95" fill="#fff" stroke="#000" stroke-width="0.8"/>
<circle cx="218.40" cy="278.60" r="0.3" fill="#000"/>
<text x="225.90" y="280.55" font-size="4.38" font-weight="normal" text-anchor="start" fill="#2a2a2a">IHD-RdRP (POOL SIZE 7)</text>
</g>
<g id="panelB">
<text x="365.20" y="13.80" font-size="5.45" font-weight="bold" text-anchor="middle" fill="#000" stroke="#000" stroke-width="0.1" textLength="48.50" lengthAdjust="spacingAndGlyphs">IHD-assay N target</text>
<line x1="314.50" y1="25.30" x2="314.50" y2="103.20" stroke="#333" stroke-width="0.55"/>
<line x1="313.10" y1="102.90" x2="314.50" y2="102.90" stroke="#000" stroke-width="0.55"/>
<text x="312.30" y="104.45" font-size="4.3" font-weight="bold" text-anchor="end" fill="#000" stroke="#000" stroke-width="0.1">0</text>
<line x1="313.10" y1="87.44" x2="314.50" y2="87.44" stroke="#000" stroke-width="0.55"/>
<text x="312.30" y="88.99" font-size="4.3" font-weight="bold" text-anchor="end" fill="#000" stroke="#000" stroke-width="0.1">10</text>
<line x1="313.10" y1="71.98" x2="314.50" y2="71.98" stroke="#000" stroke-width="0.55"/>
<text x="312.30" y="73.53" font-size="4.3" font-weight="bold" text-anchor="end" fill="#000" stroke="#000" stroke-width="0.1">20</text>
<line x1="313.10" y1="56.52" x2="314.50" y2="56.52" stroke="#000" stroke-width="0.55"/>
<text x="312.30" y="58.07" font-size="4.3" font-weight="bold" text-anchor="end" fill="#000" stroke="#000" stroke-width="0.1">30</text>
<line x1="313.10" y1="41.06" x2="314.50" y2="41.06" stroke="#000" stroke-width="0.55"/>
<text x="312.30" y="42.61" font-size="4.3" font-weight="bold" text-anchor="end" fill="#000" stroke="#000" stroke-width="0.1">40</text>
<line x1="313.10" y1="25.60" x2="314.50" y2="25.60" stroke="#000" stroke-width="0.55"/>
<text x="312.30" y="27.15" font-size="4.3" font-weight="bold" text-anchor="end" fill="#000" stroke="#000" stroke-width="0.1">50</text>
<line x1="313.66" y1="99.81" x2="314.50" y2="99.81" stroke="#000" stroke-width="0.44000000000000006"/>
<line x1="313.66" y1="96.72" x2="314.50" y2="96.72" stroke="#000" stroke-width="0.44000000000000006"/>
<line x1="313.66" y1="93.62" x2="314.50" y2="93.62" stroke="#000" stroke-width="0.44000000000000006"/>
<line x1="313.66" y1="90.53" x2="314.50" y2="90.53" stroke="#000" stroke-width="0.44000000000000006"/>
<line x1="313.66" y1="84.35" x2="314.50" y2="84.35" stroke="#000" stroke-width="0.44000000000000006"/>
<line x1="313.66" y1="81.26" x2="314.50" y2="81.26" stroke="#000" stroke-width="0.44000000000000006"/>
<line x1="313.66" y1="78.16" x2="314.50" y2="78.16" stroke="#000" stroke-width="0.44000000000000006"/>
<line x1="313.66" y1="75.07" x2="314.50" y2="75.07" stroke="#000" stroke-width="0.44000000000000006"/>
<line x1="313.66" y1="68.89" x2="314.50" y2="68.89" stroke="#000" stroke-width="0.44000000000000006"/>
<line x1="313.66" y1="65.80" x2="314.50" y2="65.80" stroke="#000" stroke-width="0.44000000000000006"/>
<line x1="313.66" y1="62.70" x2="314.50" y2="62.70" stroke="#000" stroke-width="0.44000000000000006"/>
<line x1="313.66" y1="59.61" x2="314.50" y2="59.61" stroke="#000" stroke-width="0.44000000000000006"/>
<line x1="313.66" y1="53.43" x2="314.50" y2="53.43" stroke="#000" stroke-width="0.44000000000000006"/>
<line x1="313.66" y1="50.34" x2="314.50" y2="50.34" stroke="#000" stroke-width="0.44000000000000006"/>
<line x1="313.66" y1="47.24" x2="314.50" y2="47.24" stroke="#000" stroke-width="0.44000000000000006"/>
<line x1="313.66" y1="44.15" x2="314.50" y2="44.15" stroke="#000" stroke-width="0.44000000000000006"/>
<line x1="313.66" y1="37.97" x2="314.50" y2="37.97" stroke="#000" stroke-width="0.44000000000000006"/>
<line x1="313.66" y1="34.88" x2="314.50" y2="34.88" stroke="#000" stroke-width="0.44000000000000006"/>
<line x1="313.66" y1="31.78" x2="314.50" y2="31.78" stroke="#000" stroke-width="0.44000000000000006"/>
<line x1="313.66" y1="28.69" x2="314.50" y2="28.69" stroke="#000" stroke-width="0.44000000000000006"/>
<line x1="314.20" y1="102.90" x2="413.50" y2="102.90" stroke="#000" stroke-width="0.55"/>
<line x1="322.90" y1="102.90" x2="322.90" y2="104.40" stroke="#000" stroke-width="0.55"/>
<text x="0" y="0" transform="translate(324.50,108.40) rotate(-45)" font-size="4.45" font-weight="bold" text-anchor="end" fill="#000" stroke="#000" stroke-width="0.1">SINGLE - POSITIVE</text>
<line x1="334.87" y1="102.90" x2="334.87" y2="104.40" stroke="#000" stroke-width="0.55"/>
<text x="0" y="0" transform="translate(336.47,108.40) rotate(-45)" font-size="4.45" font-weight="bold" text-anchor="end" fill="#000" stroke="#000" stroke-width="0.1">SINGLE - NEGATIVE</text>
<line x1="346.84" y1="102.90" x2="346.84" y2="104.40" stroke="#000" stroke-width="0.55"/>
<text x="0" y="0" transform="translate(348.44,108.40) rotate(-45)" font-size="4.45" font-weight="bold" text-anchor="end" fill="#000" stroke="#000" stroke-width="0.1">POOL SIZE 3 - POSITIVE</text>
<line x1="358.81" y1="102.90" x2="358.81" y2="104.40" stroke="#000" stroke-width="0.55"/>
<text x="0" y="0" transform="translate(360.41,108.40) rotate(-45)" font-size="4.45" font-weight="bold" text-anchor="end" fill="#000" stroke="#000" stroke-width="0.1">POOL SIZE 3 - NEGATIVE</text>
<line x1="370.78" y1="102.90" x2="370.78" y2="104.40" stroke="#000" stroke-width="0.55"/>
<text x="0" y="0" transform="translate(372.38,108.40) rotate(-45)" font-size="4.45" font-weight="bold" text-anchor="end" fill="#000" stroke="#000" stroke-width="0.1">POOL SIZE 5 - POSITIVE</text>
<line x1="382.75" y1="102.90" x2="382.75" y2="104.40" stroke="#000" stroke-width="0.55"/>
<text x="0" y="0" transform="translate(384.35,108.40) rotate(-45)" font-size="4.45" font-weight="bold" text-anchor="end" fill="#000" stroke="#000" stroke-width="0.1">POOL SIZE 5 - NEGATIVE</text>
<line x1="394.72" y1="102.90" x2="394.72" y2="104.40" stroke="#000" stroke-width="0.55"/>
<text x="0" y="0" transform="translate(396.32,108.40) rotate(-45)" font-size="4.45" font-weight="bold" text-anchor="end" fill="#000" stroke="#000" stroke-width="0.1">POOL SIZE 7 - POSITIVE</text>
<line x1="406.69" y1="102.90" x2="406.69" y2="104.40" stroke="#000" stroke-width="0.55"/>
<text x="0" y="0" transform="translate(408.29,108.40) rotate(-45)" font-size="4.45" font-weight="bold" text-anchor="end" fill="#000" stroke="#000" stroke-width="0.1">POOL SIZE 7 - NEGATIVE</text>
<line x1="322.90" y1="64.10" x2="322.90" y2="68.50" stroke="#000" stroke-width="0.8"/>
<line x1="320.86" y1="64.10" x2="324.94" y2="64.10" stroke="#000" stroke-width="0.8"/>
<line x1="322.90" y1="74.80" x2="322.90" y2="77.40" stroke="#000" stroke-width="0.8"/>
<line x1="320.86" y1="77.40" x2="324.94" y2="77.40" stroke="#000" stroke-width="0.8"/>
<rect x="319.20" y="68.50" width="7.40" height="6.30" fill="#fff" stroke="#000" stroke-width="0.8"/>
<line x1="319.20" y1="71.70" x2="326.60" y2="71.70" stroke="#000" stroke-width="0.8"/>
<rect x="331.17" y="43.30" width="7.40" height="5.50" fill="#fff" stroke="#000" stroke-width="0.8"/>
<line x1="331.17" y1="44.90" x2="338.57" y2="44.90" stroke="#000" stroke-width="0.8"/>
<line x1="346.84" y1="60.70" x2="346.84" y2="67.00" stroke="#000" stroke-width="0.8"/>
<line x1="344.80" y1="60.70" x2="348.88" y2="60.70" stroke="#000" stroke-width="0.8"/>
<line x1="346.84" y1="72.80" x2="346.84" y2="76.60" stroke="#000" stroke-width="0.8"/>
<line x1="344.80" y1="76.60" x2="348.88" y2="76.60" stroke="#000" stroke-width="0.8"/>
<rect x="343.14" y="67.00" width="7.40" height="5.80" fill="#fff" stroke="#000" stroke-width="0.8"/>
<line x1="343.14" y1="70.00" x2="350.54" y2="70.00" stroke="#000" stroke-width="0.8"/>
<line x1="358.81" y1="46.80" x2="358.81" y2="47.30" stroke="#000" stroke-width="0.8"/>
<line x1="356.77" y1="47.30" x2="360.85" y2="47.30" stroke="#000" stroke-width="0.8"/>
<rect x="355.11" y="43.90" width="7.40" height="2.90" fill="#fff" stroke="#000" stroke-width="0.8"/>
<line x1="355.11" y1="45.20" x2="362.51" y2="45.20" stroke="#000" stroke-width="0.8"/>
<line x1="370.78" y1="61.20" x2="370.78" y2="67.90" stroke="#000" stroke-width="0.8"/>
<line x1="368.74" y1="61.20" x2="372.81" y2="61.20" stroke="#000" stroke-width="0.8"/>
<line x1="370.78" y1="74.30" x2="370.78" y2="77.40" stroke="#000" stroke-width="0.8"/>
<line x1="368.74" y1="77.40" x2="372.81" y2="77.40" stroke="#000" stroke-width="0.8"/>
<rect x="367.08" y="67.90" width="7.40" height="6.40" fill="#fff" stroke="#000" stroke-width="0.8"/>
<line x1="367.08" y1="71.20" x2="374.48" y2="71.20" stroke="#000" stroke-width="0.8"/>
<line x1="382.75" y1="43.30" x2="382.75" y2="43.90" stroke="#000" stroke-width="0.8"/>
<line x1="380.71" y1="43.30" x2="384.79" y2="43.30" stroke="#000" stroke-width="0.8"/>
<line x1="382.75" y1="45.60" x2="382.75" y2="47.70" stroke="#000" stroke-width="0.8"/>
<line x1="380.71" y1="47.70" x2="384.79" y2="47.70" stroke="#000" stroke-width="0.8"/>
<rect x="379.05" y="43.90" width="7.40" height="1.70" fill="#fff" stroke="#000" stroke-width="0.8"/>
<line x1="379.05" y1="44.70" x2="386.45" y2="44.70" stroke="#000" stroke-width="0.8"/>
<line x1="394.72" y1="59.80" x2="394.72" y2="66.50" stroke="#000" stroke-width="0.8"/>
<line x1="392.68" y1="59.80" x2="396.75" y2="59.80" stroke="#000" stroke-width="0.8"/>
<line x1="394.72" y1="72.80" x2="394.72" y2="74.80" stroke="#000" stroke-width="0.8"/>
<line x1="392.68" y1="74.80" x2="396.75" y2="74.80" stroke="#000" stroke-width="0.8"/>
<rect x="391.02" y="66.50" width="7.40" height="6.30" fill="#fff" stroke="#000" stroke-width="0.8"/>
<line x1="391.02" y1="69.80" x2="398.42" y2="69.80" stroke="#000" stroke-width="0.8"/>
<rect x="402.39" y="35.80" width="8.60" height="15.30" fill="#fff" stroke="#000" stroke-width="0.8"/>
<line x1="402.39" y1="50.30" x2="410.99" y2="50.30" stroke="#000" stroke-width="0.8"/>
<line x1="318.80" y1="34.10" x2="338.50" y2="34.10" stroke="#444" stroke-width="0.6"/>
<text x="328.65" y="33.50" font-size="3.6" font-weight="normal" text-anchor="middle" fill="#555">****</text>
<line x1="342.80" y1="34.10" x2="362.70" y2="34.10" stroke="#444" stroke-width="0.6"/>
<text x="352.75" y="33.50" font-size="3.6" font-weight="normal" text-anchor="middle" fill="#555">****</text>
<line x1="366.80" y1="34.10" x2="386.70" y2="34.10" stroke="#444" stroke-width="0.6"/>
<text x="376.75" y="33.50" font-size="3.6" font-weight="normal" text-anchor="middle" fill="#555">****</text>
<line x1="390.50" y1="28.00" x2="410.40" y2="28.00" stroke="#444" stroke-width="0.6"/>
<text x="400.45" y="27.40" font-size="3.6" font-weight="normal" text-anchor="middle" fill="#555">***</text>
<text x="0" y="0" transform="translate(301.90,66.50) rotate(-90)" font-size="4.1" font-weight="bold" text-anchor="middle" fill="#000" stroke="#000" stroke-width="0.1" textLength="18.60" lengthAdjust="spacingAndGlyphs">Ct Values</text>
<text x="363.60" y="171.30" font-size="8.2" text-anchor="middle" fill="#111" font-family='"Liberation Serif", "DejaVu Serif", serif'>(<tspan font-weight="bold">b</tspan>)</text>
</g>
<g id="panelD">
<text x="367.30" y="182.30" font-size="5.45" font-weight="bold" text-anchor="middle" fill="#000" stroke="#000" stroke-width="0.1" textLength="60.00" lengthAdjust="spacingAndGlyphs">IHD-assay RdRP target</text>
<line x1="315.40" y1="195.00" x2="315.40" y2="275.70" stroke="#333" stroke-width="0.55"/>
<line x1="314.00" y1="275.40" x2="315.40" y2="275.40" stroke="#000" stroke-width="0.55"/>
<text x="313.20" y="276.95" font-size="4.3" font-weight="bold" text-anchor="end" fill="#000" stroke="#000" stroke-width="0.1">0</text>
<line x1="314.00" y1="259.38" x2="315.40" y2="259.38" stroke="#000" stroke-width="0.55"/>
<text x="313.20" y="260.93" font-size="4.3" font-weight="bold" text-anchor="end" fill="#000" stroke="#000" stroke-width="0.1">10</text>
<line x1="314.00" y1="243.36" x2="315.40" y2="243.36" stroke="#000" stroke-width="0.55"/>
<text x="313.20" y="244.91" font-size="4.3" font-weight="bold" text-anchor="end" fill="#000" stroke="#000" stroke-width="0.1">20</text>
<line x1="314.00" y1="227.34" x2="315.40" y2="227.34" stroke="#000" stroke-width="0.55"/>
<text x="313.20" y="228.89" font-size="4.3" font-weight="bold" text-anchor="end" fill="#000" stroke="#000" stroke-width="0.1">30</text>
<line x1="314.00" y1="211.32" x2="315.40" y2="211.32" stroke="#000" stroke-width="0.55"/>
<text x="313.20" y="212.87" font-size="4.3" font-weight="bold" text-anchor="end" fill="#000" stroke="#000" stroke-width="0.1">40</text>
<line x1="314.00" y1="195.30" x2="315.40" y2="195.30" stroke="#000" stroke-width="0.55"/>
<text x="313.20" y="196.85" font-size="4.3" font-weight="bold" text-anchor="end" fill="#000" stroke="#000" stroke-width="0.1">50</text>
<line x1="314.56" y1="272.20" x2="315.40" y2="272.20" stroke="#000" stroke-width="0.44000000000000006"/>
<line x1="314.56" y1="268.99" x2="315.40" y2="268.99" stroke="#000" stroke-width="0.44000000000000006"/>
<line x1="314.56" y1="265.79" x2="315.40" y2="265.79" stroke="#000" stroke-width="0.44000000000000006"/>
<line x1="314.56" y1="262.58" x2="315.40" y2="262.58" stroke="#000" stroke-width="0.44000000000000006"/>
<line x1="314.56" y1="256.18" x2="315.40" y2="256.18" stroke="#000" stroke-width="0.44000000000000006"/>
<line x1="314.56" y1="252.97" x2="315.40" y2="252.97" stroke="#000" stroke-width="0.44000000000000006"/>
<line x1="314.56" y1="249.77" x2="315.40" y2="249.77" stroke="#000" stroke-width="0.44000000000000006"/>
<line x1="314.56" y1="246.56" x2="315.40" y2="246.56" stroke="#000" stroke-width="0.44000000000000006"/>
<line x1="314.56" y1="240.16" x2="315.40" y2="240.16" stroke="#000" stroke-width="0.44000000000000006"/>
<line x1="314.56" y1="236.95" x2="315.40" y2="236.95" stroke="#000" stroke-width="0.44000000000000006"/>
<line x1="314.56" y1="233.75" x2="315.40" y2="233.75" stroke="#000" stroke-width="0.44000000000000006"/>
<line x1="314.56" y1="230.54" x2="315.40" y2="230.54" stroke="#000" stroke-width="0.44000000000000006"/>
<line x1="314.56" y1="224.14" x2="315.40" y2="224.14" stroke="#000" stroke-width="0.44000000000000006"/>
<line x1="314.56" y1="220.93" x2="315.40" y2="220.93" stroke="#000" stroke-width="0.44000000000000006"/>
<line x1="314.56" y1="217.73" x2="315.40" y2="217.73" stroke="#000" stroke-width="0.44000000000000006"/>
<line x1="314.56" y1="214.52" x2="315.40" y2="214.52" stroke="#000" stroke-width="0.44000000000000006"/>
<line x1="314.56" y1="208.12" x2="315.40" y2="208.12" stroke="#000" stroke-width="0.44000000000000006"/>
<line x1="314.56" y1="204.91" x2="315.40" y2="204.91" stroke="#000" stroke-width="0.44000000000000006"/>
<line x1="314.56" y1="201.71" x2="315.40" y2="201.71" stroke="#000" stroke-width="0.44000000000000006"/>
<line x1="314.56" y1="198.50" x2="315.40" y2="198.50" stroke="#000" stroke-width="0.44000000000000006"/>
<line x1="315.10" y1="275.40" x2="418.20" y2="275.40" stroke="#000" stroke-width="0.55"/>
<line x1="324.20" y1="275.40" x2="324.20" y2="276.90" stroke="#000" stroke-width="0.55"/>
<text x="0" y="0" transform="translate(326.20,280.20) rotate(-45)" font-size="4.58" font-weight="bold" text-anchor="end" fill="#000" stroke="#000" stroke-width="0.1">SINGLE - POSITIVE</text>
<line x1="336.53" y1="275.40" x2="336.53" y2="276.90" stroke="#000" stroke-width="0.55"/>
<text x="0" y="0" transform="translate(338.53,280.20) rotate(-45)" font-size="4.58" font-weight="bold" text-anchor="end" fill="#000" stroke="#000" stroke-width="0.1">SINGLE - NEGATIVE</text>
<line x1="348.86" y1="275.40" x2="348.86" y2="276.90" stroke="#000" stroke-width="0.55"/>
<text x="0" y="0" transform="translate(350.86,280.20) rotate(-45)" font-size="4.58" font-weight="bold" text-anchor="end" fill="#000" stroke="#000" stroke-width="0.1">POOL SIZE 3 - POSITIVE</text>
<line x1="361.19" y1="275.40" x2="361.19" y2="276.90" stroke="#000" stroke-width="0.55"/>
<text x="0" y="0" transform="translate(363.19,280.20) rotate(-45)" font-size="4.58" font-weight="bold" text-anchor="end" fill="#000" stroke="#000" stroke-width="0.1">POOL SIZE 3 - NEGATIVE</text>
<line x1="373.52" y1="275.40" x2="373.52" y2="276.90" stroke="#000" stroke-width="0.55"/>
<text x="0" y="0" transform="translate(375.52,280.20) rotate(-45)" font-size="4.58" font-weight="bold" text-anchor="end" fill="#000" stroke="#000" stroke-width="0.1">POOL SIZE 5 - POSITIVE</text>
<line x1="385.85" y1="275.40" x2="385.85" y2="276.90" stroke="#000" stroke-width="0.55"/>
<text x="0" y="0" transform="translate(387.85,280.20) rotate(-45)" font-size="4.58" font-weight="bold" text-anchor="end" fill="#000" stroke="#000" stroke-width="0.1">POOL SIZE 5 - NEGATIVE</text>
<line x1="398.18" y1="275.40" x2="398.18" y2="276.90" stroke="#000" stroke-width="0.55"/>
<text x="0" y="0" transform="translate(400.18,280.20) rotate(-45)" font-size="4.58" font-weight="bold" text-anchor="end" fill="#000" stroke="#000" stroke-width="0.1">POOL SIZE 7 - POSITIVE</text>
<line x1="410.51" y1="275.40" x2="410.51" y2="276.90" stroke="#000" stroke-width="0.55"/>
<text x="0" y="0" transform="translate(412.51,280.20) rotate(-45)" font-size="4.58" font-weight="bold" text-anchor="end" fill="#000" stroke="#000" stroke-width="0.1">POOL SIZE 7 - NEGATIVE</text>
<line x1="324.20" y1="212.40" x2="324.20" y2="216.30" stroke="#000" stroke-width="0.8"/>
<line x1="322.06" y1="212.40" x2="326.34" y2="212.40" stroke="#000" stroke-width="0.8"/>
<line x1="324.20" y1="226.60" x2="324.20" y2="227.10" stroke="#000" stroke-width="0.8"/>
<line x1="322.06" y1="227.10" x2="326.34" y2="227.10" stroke="#000" stroke-width="0.8"/>
<rect x="320.30" y="216.30" width="7.80" height="10.30" fill="#fff" stroke="#000" stroke-width="0.8"/>
<line x1="320.30" y1="220.10" x2="328.10" y2="220.10" stroke="#000" stroke-width="0.8"/>
<line x1="332.90" y1="195.20" x2="340.80" y2="195.20" stroke="#333" stroke-width="0.85"/>
<line x1="348.86" y1="206.20" x2="348.86" y2="209.40" stroke="#000" stroke-width="0.8"/>
<line x1="346.72" y1="206.20" x2="351.00" y2="206.20" stroke="#000" stroke-width="0.8"/>
<line x1="348.86" y1="219.60" x2="348.86" y2="225.30" stroke="#000" stroke-width="0.8"/>
<line x1="346.72" y1="225.30" x2="351.00" y2="225.30" stroke="#000" stroke-width="0.8"/>
<rect x="344.96" y="209.40" width="7.80" height="10.20" fill="#fff" stroke="#000" stroke-width="0.8"/>
<line x1="344.96" y1="214.60" x2="352.76" y2="214.60" stroke="#000" stroke-width="0.8"/>
<line x1="357.70" y1="195.20" x2="365.30" y2="195.20" stroke="#333" stroke-width="0.85"/>
<line x1="373.52" y1="214.30" x2="373.52" y2="220.30" stroke="#000" stroke-width="0.8"/>
<line x1="371.38" y1="220.30" x2="375.66" y2="220.30" stroke="#000" stroke-width="0.8"/>
<rect x="369.62" y="195.00" width="7.80" height="19.30" fill="#fff" stroke="#000" stroke-width="0.8"/>
<line x1="369.62" y1="209.10" x2="377.42" y2="209.10" stroke="#000" stroke-width="0.8"/>
<line x1="382.50" y1="195.20" x2="389.50" y2="195.20" stroke="#333" stroke-width="0.85"/>
<line x1="398.18" y1="209.90" x2="398.18" y2="218.30" stroke="#000" stroke-width="0.8"/>
<line x1="396.04" y1="218.30" x2="400.32" y2="218.30" stroke="#000" stroke-width="0.8"/>
<rect x="394.28" y="195.00" width="7.80" height="14.90" fill="#fff" stroke="#000" stroke-width="0.8"/>
<line x1="407.00" y1="195.20" x2="414.30" y2="195.20" stroke="#333" stroke-width="0.85"/>
<line x1="319.60" y1="193.00" x2="340.80" y2="193.00" stroke="#777" stroke-width="0.8"/>
<text x="330.20" y="192.50" font-size="3.6" font-weight="normal" text-anchor="middle" fill="#555">****</text>
<line x1="344.70" y1="193.00" x2="365.30" y2="193.00" stroke="#777" stroke-width="0.8"/>
<text x="355.00" y="192.50" font-size="3.6" font-weight="normal" text-anchor="middle" fill="#555">***</text>
<line x1="368.70" y1="193.00" x2="389.50" y2="193.00" stroke="#777" stroke-width="0.8"/>
<text x="379.10" y="192.50" font-size="3.6" font-weight="normal" text-anchor="middle" fill="#555">*</text>
<line x1="393.40" y1="193.00" x2="414.30" y2="193.00" stroke="#777" stroke-width="0.8"/>
<text x="403.85" y="191.90" font-size="3.4" font-weight="normal" text-anchor="middle" fill="#555">ns</text>
<text x="0" y="0" transform="translate(302.10,237.20) rotate(-90)" font-size="4.28" font-weight="bold" text-anchor="middle" fill="#000" stroke="#000" stroke-width="0.1" textLength="19.40" lengthAdjust="spacingAndGlyphs">Ct Values</text>
<text x="363.00" y="331.80" font-size="8.2" text-anchor="middle" fill="#111" font-family='"Liberation Serif", "DejaVu Serif", serif'>(<tspan font-weight="bold">d</tspan>)</text>
</g>
<g id="panelE">
<rect x="114.10" y="385.40" width="19.28" height="11.32" fill="#ff623a" shape-rendering="crispEdges"/>
<rect x="132.78" y="385.40" width="19.28" height="11.32" fill="#ff1c10" shape-rendering="crispEdges"/>
<rect x="151.46" y="385.40" width="19.28" height="11.32" fill="#ff2515" shape-rendering="crispEdges"/>
<rect x="170.14" y="385.40" width="19.28" height="11.32" fill="#ff1d11" shape-rendering="crispEdges"/>
<rect x="188.82" y="385.40" width="19.28" height="11.32" fill="#ff2e1b" shape-rendering="crispEdges"/>
<rect x="207.50" y="385.40" width="19.28" height="11.32" fill="#ff130b" shape-rendering="crispEdges"/>
<rect x="226.18" y="385.40" width="19.28" height="11.32" fill="#ffa664" shape-rendering="crispEdges"/>
<rect x="244.86" y="385.40" width="19.28" height="11.32" fill="#ffd37f" shape-rendering="crispEdges"/>
<rect x="263.54" y="385.40" width="19.28" height="11.32" fill="#ffd781" shape-rendering="crispEdges"/>
<rect x="282.22" y="385.40" width="18.68" height="11.32" fill="#ffe489" shape-rendering="crispEdges"/>
<rect x="114.10" y="396.12" width="19.28" height="11.32" fill="#ff5e38" shape-rendering="crispEdges"/>
<rect x="132.78" y="396.12" width="19.28" height="11.32" fill="#ff2817" shape-rendering="crispEdges"/>
<rect x="151.46" y="396.12" width="19.28" height="11.32" fill="#ff3a22" shape-rendering="crispEdges"/>
<rect x="170.14" y="396.12" width="19.28" height="11.32" fill="#ff2e1b" shape-rendering="crispEdges"/>
<rect x="188.82" y="396.12" width="19.28" height="11.32" fill="#ff321d" shape-rendering="crispEdges"/>
<rect x="207.50" y="396.12" width="19.28" height="11.32" fill="#ff2817" shape-rendering="crispEdges"/>
<rect x="226.18" y="396.12" width="19.28" height="11.32" fill="#ffd781" shape-rendering="crispEdges"/>
<rect x="244.86" y="396.12" width="19.28" height="11.32" fill="#ffed8e" shape-rendering="crispEdges"/>
<rect x="263.54" y="396.12" width="19.28" height="11.32" fill="#fffc97" shape-rendering="crispEdges"/>
<rect x="282.22" y="396.12" width="18.68" height="11.32" fill="#74ff46" shape-rendering="crispEdges"/>
<rect x="114.10" y="406.84" width="19.28" height="11.32" fill="#ff7b49" shape-rendering="crispEdges"/>
<rect x="132.78" y="406.84" width="19.28" height="11.32" fill="#ff3821" shape-rendering="crispEdges"/>
<rect x="151.46" y="406.84" width="19.28" height="11.32" fill="#ff4026" shape-rendering="crispEdges"/>
<rect x="170.14" y="406.84" width="19.28" height="11.32" fill="#ff3c23" shape-rendering="crispEdges"/>
<rect x="188.82" y="406.84" width="19.28" height="11.32" fill="#ff492b" shape-rendering="crispEdges"/>
<rect x="207.50" y="406.84" width="19.28" height="11.32" fill="#ff301c" shape-rendering="crispEdges"/>
<rect x="226.18" y="406.84" width="19.28" height="11.32" fill="#ffb56c" shape-rendering="crispEdges"/>
<rect x="244.86" y="406.84" width="19.28" height="11.32" fill="#ffef8f" shape-rendering="crispEdges"/>
<rect x="263.54" y="406.84" width="19.28" height="11.32" fill="#f9ff95" shape-rendering="crispEdges"/>
<rect x="282.22" y="406.84" width="18.68" height="11.32" fill="#edff8e" shape-rendering="crispEdges"/>
<rect x="114.10" y="417.56" width="19.28" height="11.32" fill="#ff4a2c" shape-rendering="crispEdges"/>
<rect x="132.78" y="417.56" width="19.28" height="11.32" fill="#ff4026" shape-rendering="crispEdges"/>
<rect x="151.46" y="417.56" width="19.28" height="11.32" fill="#ff3e24" shape-rendering="crispEdges"/>
<rect x="170.14" y="417.56" width="19.28" height="11.32" fill="#ff3e24" shape-rendering="crispEdges"/>
<rect x="188.82" y="417.56" width="19.28" height="11.32" fill="#ff502f" shape-rendering="crispEdges"/>
<rect x="207.50" y="417.56" width="19.28" height="11.32" fill="#ff2d1a" shape-rendering="crispEdges"/>
<rect x="226.18" y="417.56" width="19.28" height="11.32" fill="#ffd27e" shape-rendering="crispEdges"/>
<rect x="244.86" y="417.56" width="19.28" height="11.32" fill="#f1ff90" shape-rendering="crispEdges"/>
<rect x="263.54" y="417.56" width="19.28" height="11.32" fill="#ceff7c" shape-rendering="crispEdges"/>
<rect x="282.22" y="417.56" width="18.68" height="11.32" fill="#00ff00" shape-rendering="crispEdges"/>
<rect x="114.10" y="428.29" width="19.28" height="11.32" fill="#ff5030" shape-rendering="crispEdges"/>
<rect x="132.78" y="428.29" width="19.28" height="11.32" fill="#ff4629" shape-rendering="crispEdges"/>
<rect x="151.46" y="428.29" width="19.28" height="11.32" fill="#ff4227" shape-rendering="crispEdges"/>
<rect x="170.14" y="428.29" width="19.28" height="11.32" fill="#ff4a2c" shape-rendering="crispEdges"/>
<rect x="188.82" y="428.29" width="19.28" height="11.32" fill="#ff4629" shape-rendering="crispEdges"/>
<rect x="207.50" y="428.29" width="19.28" height="11.32" fill="#ff2c19" shape-rendering="crispEdges"/>
<rect x="226.18" y="428.29" width="19.28" height="11.32" fill="#ffed8e" shape-rendering="crispEdges"/>
<rect x="244.86" y="428.29" width="19.28" height="11.32" fill="#f5ff93" shape-rendering="crispEdges"/>
<rect x="263.54" y="428.29" width="19.28" height="11.32" fill="#b6ff6d" shape-rendering="crispEdges"/>
<rect x="282.22" y="428.29" width="18.68" height="11.32" fill="#00ff00" shape-rendering="crispEdges"/>
<rect x="114.10" y="439.01" width="19.28" height="11.32" fill="#ff623a" shape-rendering="crispEdges"/>
<rect x="132.78" y="439.01" width="19.28" height="11.32" fill="#ff5b36" shape-rendering="crispEdges"/>
<rect x="151.46" y="439.01" width="19.28" height="11.32" fill="#ff623a" shape-rendering="crispEdges"/>
<rect x="170.14" y="439.01" width="19.28" height="11.32" fill="#ff5d37" shape-rendering="crispEdges"/>
<rect x="188.82" y="439.01" width="19.28" height="11.32" fill="#ff693e" shape-rendering="crispEdges"/>
<rect x="207.50" y="439.01" width="19.28" height="11.32" fill="#ff4227" shape-rendering="crispEdges"/>
<rect x="226.18" y="439.01" width="19.28" height="11.32" fill="#fff090" shape-rendering="crispEdges"/>
<rect x="244.86" y="439.01" width="19.28" height="11.32" fill="#93ff58" shape-rendering="crispEdges"/>
<rect x="263.54" y="439.01" width="19.28" height="11.32" fill="#00ff00" shape-rendering="crispEdges"/>
<rect x="282.22" y="439.01" width="18.68" height="11.32" fill="#00ff00" shape-rendering="crispEdges"/>
<rect x="114.10" y="449.73" width="19.28" height="11.32" fill="#ff844e" shape-rendering="crispEdges"/>
<rect x="132.78" y="449.73" width="19.28" height="11.32" fill="#ff7244" shape-rendering="crispEdges"/>
<rect x="151.46" y="449.73" width="19.28" height="11.32" fill="#ff8a52" shape-rendering="crispEdges"/>
<rect x="170.14" y="449.73" width="19.28" height="11.32" fill="#ff8750" shape-rendering="crispEdges"/>
<rect x="188.82" y="449.73" width="19.28" height="11.32" fill="#ff9056" shape-rendering="crispEdges"/>
<rect x="207.50" y="449.73" width="19.28" height="11.32" fill="#ff623a" shape-rendering="crispEdges"/>
<rect x="226.18" y="449.73" width="19.28" height="11.32" fill="#ffa965" shape-rendering="crispEdges"/>
<rect x="244.86" y="449.73" width="19.28" height="11.32" fill="#ffb76e" shape-rendering="crispEdges"/>
<rect x="263.54" y="449.73" width="19.28" height="11.32" fill="#00ff00" shape-rendering="crispEdges"/>
<rect x="282.22" y="449.73" width="18.68" height="11.32" fill="#00ff00" shape-rendering="crispEdges"/>
<rect x="114.10" y="460.45" width="19.28" height="11.32" fill="#ffdd85" shape-rendering="crispEdges"/>
<rect x="132.78" y="460.45" width="19.28" height="11.32" fill="#ff5030" shape-rendering="crispEdges"/>
<rect x="151.46" y="460.45" width="19.28" height="11.32" fill="#ff5c37" shape-rendering="crispEdges"/>
<rect x="170.14" y="460.45" width="19.28" height="11.32" fill="#ff5633" shape-rendering="crispEdges"/>
<rect x="188.82" y="460.45" width="19.28" height="11.32" fill="#ff5935" shape-rendering="crispEdges"/>
<rect x="207.50" y="460.45" width="19.28" height="11.32" fill="#ff4629" shape-rendering="crispEdges"/>
<rect x="226.18" y="460.45" width="19.28" height="11.32" fill="#f1ff90" shape-rendering="crispEdges"/>
<rect x="244.86" y="460.45" width="19.28" height="11.32" fill="#a9ff65" shape-rendering="crispEdges"/>
<rect x="263.54" y="460.45" width="19.28" height="11.32" fill="#00ff00" shape-rendering="crispEdges"/>
<rect x="282.22" y="460.45" width="18.68" height="11.32" fill="#00ff00" shape-rendering="crispEdges"/>
<rect x="114.10" y="471.17" width="19.28" height="11.32" fill="#00ff00" shape-rendering="crispEdges"/>
<rect x="132.78" y="471.17" width="19.28" height="11.32" fill="#ffd580" shape-rendering="crispEdges"/>
<rect x="151.46" y="471.17" width="19.28" height="11.32" fill="#ffee8f" shape-rendering="crispEdges"/>
<rect x="170.14" y="471.17" width="19.28" height="11.32" fill="#f5ff93" shape-rendering="crispEdges"/>
<rect x="188.82" y="471.17" width="19.28" height="11.32" fill="#a6ff64" shape-rendering="crispEdges"/>
<rect x="207.50" y="471.17" width="19.28" height="11.32" fill="#00ff00" shape-rendering="crispEdges"/>
<rect x="226.18" y="471.17" width="19.28" height="11.32" fill="#00ff00" shape-rendering="crispEdges"/>
<rect x="244.86" y="471.17" width="19.28" height="11.32" fill="#00ff00" shape-rendering="crispEdges"/>
<rect x="263.54" y="471.17" width="19.28" height="11.32" fill="#00ff00" shape-rendering="crispEdges"/>
<rect x="282.22" y="471.17" width="18.68" height="11.32" fill="#00ff00" shape-rendering="crispEdges"/>
<rect x="114.10" y="481.89" width="19.28" height="11.32" fill="#00ff00" shape-rendering="crispEdges"/>
<rect x="132.78" y="481.89" width="19.28" height="11.32" fill="#fff291" shape-rendering="crispEdges"/>
<rect x="151.46" y="481.89" width="19.28" height="11.32" fill="#ffef90" shape-rendering="crispEdges"/>
<rect x="170.14" y="481.89" width="19.28" height="11.32" fill="#fff895" shape-rendering="crispEdges"/>
<rect x="188.82" y="481.89" width="19.28" height="11.32" fill="#ffd580" shape-rendering="crispEdges"/>
<rect x="207.50" y="481.89" width="19.28" height="11.32" fill="#00ff00" shape-rendering="crispEdges"/>
<rect x="226.18" y="481.89" width="19.28" height="11.32" fill="#00ff00" shape-rendering="crispEdges"/>
<rect x="244.86" y="481.89" width="19.28" height="11.32" fill="#00ff00" shape-rendering="crispEdges"/>
<rect x="263.54" y="481.89" width="19.28" height="11.32" fill="#00ff00" shape-rendering="crispEdges"/>
<rect x="282.22" y="481.89" width="18.68" height="11.32" fill="#00ff00" shape-rendering="crispEdges"/>
<rect x="114.10" y="492.61" width="19.28" height="11.32" fill="#00ff00" shape-rendering="crispEdges"/>
<rect x="132.78" y="492.61" width="19.28" height="11.32" fill="#ffdd85" shape-rendering="crispEdges"/>
<rect x="151.46" y="492.61" width="19.28" height="11.32" fill="#fffc97" shape-rendering="crispEdges"/>
<rect x="170.14" y="492.61" width="19.28" height="11.32" fill="#fffc97" shape-rendering="crispEdges"/>
<rect x="188.82" y="492.61" width="19.28" height="11.32" fill="#ffcb7a" shape-rendering="crispEdges"/>
<rect x="207.50" y="492.61" width="19.28" height="11.32" fill="#00ff00" shape-rendering="crispEdges"/>
<rect x="226.18" y="492.61" width="19.28" height="11.32" fill="#00ff00" shape-rendering="crispEdges"/>
<rect x="244.86" y="492.61" width="19.28" height="11.32" fill="#00ff00" shape-rendering="crispEdges"/>
<rect x="263.54" y="492.61" width="19.28" height="11.32" fill="#00ff00" shape-rendering="crispEdges"/>
<rect x="282.22" y="492.61" width="18.68" height="11.32" fill="#00ff00" shape-rendering="crispEdges"/>
<rect x="114.10" y="503.34" width="19.28" height="11.32" fill="#00ff00" shape-rendering="crispEdges"/>
<rect x="132.78" y="503.34" width="19.28" height="11.32" fill="#fffc97" shape-rendering="crispEdges"/>
<rect x="151.46" y="503.34" width="19.28" height="11.32" fill="#ffe187" shape-rendering="crispEdges"/>
<rect x="170.14" y="503.34" width="19.28" height="11.32" fill="#ffe388" shape-rendering="crispEdges"/>
<rect x="188.82" y="503.34" width="19.28" height="11.32" fill="#8fff56" shape-rendering="crispEdges"/>
<rect x="207.50" y="503.34" width="19.28" height="11.32" fill="#00ff00" shape-rendering="crispEdges"/>
<rect x="226.18" y="503.34" width="19.28" height="11.32" fill="#00ff00" shape-rendering="crispEdges"/>
<rect x="244.86" y="503.34" width="19.28" height="11.32" fill="#00ff00" shape-rendering="crispEdges"/>
<rect x="263.54" y="503.34" width="19.28" height="11.32" fill="#00ff00" shape-rendering="crispEdges"/>
<rect x="282.22" y="503.34" width="18.68" height="11.32" fill="#00ff00" shape-rendering="crispEdges"/>
<rect x="114.10" y="514.06" width="19.28" height="11.32" fill="#00ff00" shape-rendering="crispEdges"/>
<rect x="132.78" y="514.06" width="19.28" height="11.32" fill="#fff291" shape-rendering="crispEdges"/>
<rect x="151.46" y="514.06" width="19.28" height="11.32" fill="#ffee8f" shape-rendering="crispEdges"/>
<rect x="170.14" y="514.06" width="19.28" height="11.32" fill="#fffa96" shape-rendering="crispEdges"/>
<rect x="188.82" y="514.06" width="19.28" height="11.32" fill="#ffd580" shape-rendering="crispEdges"/>
<rect x="207.50" y="514.06" width="19.28" height="11.32" fill="#00ff00" shape-rendering="crispEdges"/>
<rect x="226.18" y="514.06" width="19.28" height="11.32" fill="#00ff00" shape-rendering="crispEdges"/>
<rect x="244.86" y="514.06" width="19.28" height="11.32" fill="#00ff00" shape-rendering="crispEdges"/>
<rect x="263.54" y="514.06" width="19.28" height="11.32" fill="#00ff00" shape-rendering="crispEdges"/>
<rect x="282.22" y="514.06" width="18.68" height="11.32" fill="#00ff00" shape-rendering="crispEdges"/>
<rect x="114.10" y="524.78" width="19.28" height="10.72" fill="#00ff00" shape-rendering="crispEdges"/>
<rect x="132.78" y="524.78" width="19.28" height="10.72" fill="#fffc97" shape-rendering="crispEdges"/>
<rect x="151.46" y="524.78" width="19.28" height="10.72" fill="#fffc97" shape-rendering="crispEdges"/>
<rect x="170.14" y="524.78" width="19.28" height="10.72" fill="#fffc97" shape-rendering="crispEdges"/>
<rect x="188.82" y="524.78" width="19.28" height="10.72" fill="#ffcf7c" shape-rendering="crispEdges"/>
<rect x="207.50" y="524.78" width="19.28" height="10.72" fill="#00ff00" shape-rendering="crispEdges"/>
<rect x="226.18" y="524.78" width="19.28" height="10.72" fill="#00ff00" shape-rendering="crispEdges"/>
<rect x="244.86" y="524.78" width="19.28" height="10.72" fill="#00ff00" shape-rendering="crispEdges"/>
<rect x="263.54" y="524.78" width="19.28" height="10.72" fill="#00ff00" shape-rendering="crispEdges"/>
<rect x="282.22" y="524.78" width="18.68" height="10.72" fill="#00ff00" shape-rendering="crispEdges"/>
<rect x="114.1" y="385.4" width="186.80" height="150.10" fill="none" stroke="#000" stroke-width="0.9"/>
<line x1="132.78" y1="385.40" x2="132.78" y2="535.50" stroke="#222" stroke-width="0.45"/>
<line x1="207.50" y1="385.40" x2="207.50" y2="535.50" stroke="#222" stroke-width="0.45"/>
<line x1="226.18" y1="385.40" x2="226.18" y2="535.50" stroke="#222" stroke-width="0.45"/>
<line x1="114.10" y1="471.17" x2="300.90" y2="471.17" stroke="#222" stroke-width="0.45"/>
<line x1="112.50" y1="390.76" x2="114.10" y2="390.76" stroke="#000" stroke-width="0.5"/>
<text x="109.90" y="392.36" font-size="4.7" font-weight="bold" text-anchor="end" fill="#000" stroke="#000" stroke-width="0.1">pos_A</text>
<line x1="112.50" y1="401.48" x2="114.10" y2="401.48" stroke="#000" stroke-width="0.5"/>
<text x="109.90" y="403.08" font-size="4.7" font-weight="bold" text-anchor="end" fill="#000" stroke="#000" stroke-width="0.1">pos_B</text>
<line x1="112.50" y1="412.20" x2="114.10" y2="412.20" stroke="#000" stroke-width="0.5"/>
<text x="109.90" y="413.80" font-size="4.7" font-weight="bold" text-anchor="end" fill="#000" stroke="#000" stroke-width="0.1">pos_C</text>
<line x1="112.50" y1="422.92" x2="114.10" y2="422.92" stroke="#000" stroke-width="0.5"/>
<text x="109.90" y="424.52" font-size="4.7" font-weight="bold" text-anchor="end" fill="#000" stroke="#000" stroke-width="0.1">pos_D</text>
<line x1="112.50" y1="433.65" x2="114.10" y2="433.65" stroke="#000" stroke-width="0.5"/>
<text x="109.90" y="435.25" font-size="4.7" font-weight="bold" text-anchor="end" fill="#000" stroke="#000" stroke-width="0.1">pos_E</text>
<line x1="112.50" y1="444.37" x2="114.10" y2="444.37" stroke="#000" stroke-width="0.5"/>
<text x="109.90" y="445.97" font-size="4.7" font-weight="bold" text-anchor="end" fill="#000" stroke="#000" stroke-width="0.1">pos_F</text>
<line x1="112.50" y1="455.09" x2="114.10" y2="455.09" stroke="#000" stroke-width="0.5"/>
<text x="109.90" y="456.69" font-size="4.7" font-weight="bold" text-anchor="end" fill="#000" stroke="#000" stroke-width="0.1">pos_G</text>
<line x1="112.50" y1="465.81" x2="114.10" y2="465.81" stroke="#000" stroke-width="0.5"/>
<text x="109.90" y="467.41" font-size="4.7" font-weight="bold" text-anchor="end" fill="#000" stroke="#000" stroke-width="0.1">pos_H</text>
<line x1="112.50" y1="476.53" x2="114.10" y2="476.53" stroke="#000" stroke-width="0.5"/>
<text x="109.90" y="478.13" font-size="4.7" font-weight="bold" text-anchor="end" fill="#000" stroke="#000" stroke-width="0.1">neg_A</text>
<line x1="112.50" y1="487.25" x2="114.10" y2="487.25" stroke="#000" stroke-width="0.5"/>
<text x="109.90" y="488.85" font-size="4.7" font-weight="bold" text-anchor="end" fill="#000" stroke="#000" stroke-width="0.1">neg_B</text>
<line x1="112.50" y1="497.98" x2="114.10" y2="497.98" stroke="#000" stroke-width="0.5"/>
<text x="109.90" y="499.58" font-size="4.7" font-weight="bold" text-anchor="end" fill="#000" stroke="#000" stroke-width="0.1">neg_C</text>
<line x1="112.50" y1="508.70" x2="114.10" y2="508.70" stroke="#000" stroke-width="0.5"/>
<text x="109.90" y="510.30" font-size="4.7" font-weight="bold" text-anchor="end" fill="#000" stroke="#000" stroke-width="0.1">neg_D</text>
<line x1="112.50" y1="519.42" x2="114.10" y2="519.42" stroke="#000" stroke-width="0.5"/>
<text x="109.90" y="521.02" font-size="4.7" font-weight="bold" text-anchor="end" fill="#000" stroke="#000" stroke-width="0.1">neg_E</text>
<line x1="112.50" y1="530.14" x2="114.10" y2="530.14" stroke="#000" stroke-width="0.5"/>
<text x="109.90" y="531.74" font-size="4.7" font-weight="bold" text-anchor="end" fill="#000" stroke="#000" stroke-width="0.1">neg_F</text>
<line x1="123.44" y1="383.80" x2="123.44" y2="385.40" stroke="#000" stroke-width="0.5"/>
<text x="0" y="0" transform="translate(124.74,381.80) rotate(-45)" font-size="4.8" font-weight="bold" text-anchor="start" fill="#000" stroke="#000" stroke-width="0.1">IVD-N</text>
<line x1="142.12" y1="383.80" x2="142.12" y2="385.40" stroke="#000" stroke-width="0.5"/>
<text x="0" y="0" transform="translate(143.42,381.80) rotate(-45)" font-size="4.8" font-weight="bold" text-anchor="start" fill="#000" stroke="#000" stroke-width="0.1">IHD-N SINGLE</text>
<line x1="160.80" y1="383.80" x2="160.80" y2="385.40" stroke="#000" stroke-width="0.5"/>
<text x="0" y="0" transform="translate(162.10,381.80) rotate(-45)" font-size="4.8" font-weight="bold" text-anchor="start" fill="#000" stroke="#000" stroke-width="0.1">IHD-N (POOL SIZE 3)</text>
<line x1="179.48" y1="383.80" x2="179.48" y2="385.40" stroke="#000" stroke-width="0.5"/>
<text x="0" y="0" transform="translate(180.78,381.80) rotate(-45)" font-size="4.8" font-weight="bold" text-anchor="start" fill="#000" stroke="#000" stroke-width="0.1">IHD-N (POOL SIZE 5)</text>
<line x1="198.16" y1="383.80" x2="198.16" y2="385.40" stroke="#000" stroke-width="0.5"/>
<text x="0" y="0" transform="translate(199.46,381.80) rotate(-45)" font-size="4.8" font-weight="bold" text-anchor="start" fill="#000" stroke="#000" stroke-width="0.1">IHD-N (POOL SIZE 7)</text>
<line x1="216.84" y1="383.80" x2="216.84" y2="385.40" stroke="#000" stroke-width="0.5"/>
<text x="0" y="0" transform="translate(218.14,381.80) rotate(-45)" font-size="4.8" font-weight="bold" text-anchor="start" fill="#000" stroke="#000" stroke-width="0.1">IVD-RdRP/Hel</text>
<line x1="235.52" y1="383.80" x2="235.52" y2="385.40" stroke="#000" stroke-width="0.5"/>
<text x="0" y="0" transform="translate(236.82,381.80) rotate(-45)" font-size="4.8" font-weight="bold" text-anchor="start" fill="#000" stroke="#000" stroke-width="0.1">IHD-RdRP SINGLE</text>
<line x1="254.20" y1="383.80" x2="254.20" y2="385.40" stroke="#000" stroke-width="0.5"/>
<text x="0" y="0" transform="translate(255.50,381.80) rotate(-45)" font-size="4.8" font-weight="bold" text-anchor="start" fill="#000" stroke="#000" stroke-width="0.1">IHD-RdRP (POOL SIZE 3)</text>
<line x1="272.88" y1="383.80" x2="272.88" y2="385.40" stroke="#000" stroke-width="0.5"/>
<text x="0" y="0" transform="translate(274.18,381.80) rotate(-45)" font-size="4.8" font-weight="bold" text-anchor="start" fill="#000" stroke="#000" stroke-width="0.1">IHD-RdRP (POOL SIZE 5)</text>
<line x1="291.56" y1="383.80" x2="291.56" y2="385.40" stroke="#000" stroke-width="0.5"/>
<text x="0" y="0" transform="translate(292.86,381.80) rotate(-45)" font-size="4.8" font-weight="bold" text-anchor="start" fill="#000" stroke="#000" stroke-width="0.1">IHD-RdRP (POOL SIZE 7)</text>
<text x="0" y="0" transform="translate(93.00,456.00) rotate(-90)" font-size="4.5" font-weight="bold" text-anchor="middle" fill="#000" stroke="#000" stroke-width="0.1" textLength="61.60" lengthAdjust="spacingAndGlyphs">RETROSPECTIVE SAMPLES</text>
<defs><linearGradient id="cb" x1="0" y1="0" x2="0" y2="1"><stop offset="0" stop-color="#00ff00"/><stop offset="0.3143" stop-color="#ffff99"/><stop offset="1" stop-color="#ff0a05"/></linearGradient></defs>
<rect x="309.0" y="385.4" width="7.8" height="150.10" fill="url(#cb)" stroke="#000" stroke-width="0.8"/>
<text x="319.50" y="387.00" font-size="4.7" font-weight="normal" text-anchor="start" fill="#222">50</text>
<line x1="309.00" y1="428.29" x2="310.30" y2="428.29" stroke="#000" stroke-width="0.5"/>
<line x1="315.50" y1="428.29" x2="316.80" y2="428.29" stroke="#000" stroke-width="0.5"/>
<text x="319.50" y="429.89" font-size="4.7" font-weight="normal" text-anchor="start" fill="#222">40</text>
<line x1="309.00" y1="471.17" x2="310.30" y2="471.17" stroke="#000" stroke-width="0.5"/>
<line x1="315.50" y1="471.17" x2="316.80" y2="471.17" stroke="#000" stroke-width="0.5"/>
<text x="319.50" y="472.77" font-size="4.7" font-weight="normal" text-anchor="start" fill="#222">30</text>
<line x1="309.00" y1="514.06" x2="310.30" y2="514.06" stroke="#000" stroke-width="0.5"/>
<line x1="315.50" y1="514.06" x2="316.80" y2="514.06" stroke="#000" stroke-width="0.5"/>
<text x="319.50" y="515.66" font-size="4.7" font-weight="normal" text-anchor="start" fill="#222">20</text>
<text x="327.20" y="456.60" font-size="5.0" font-weight="bold" text-anchor="start" fill="#000" stroke="#000" stroke-width="0.1" textLength="23.20" lengthAdjust="spacingAndGlyphs">Ct Values</text>
<text x="218.90" y="546.80" font-size="8.2" text-anchor="middle" fill="#111" font-family='"Liberation Serif", "DejaVu Serif", serif'>(<tspan font-weight="bold">e</tspan>)</text>
</g>
</svg>
</body></html>
